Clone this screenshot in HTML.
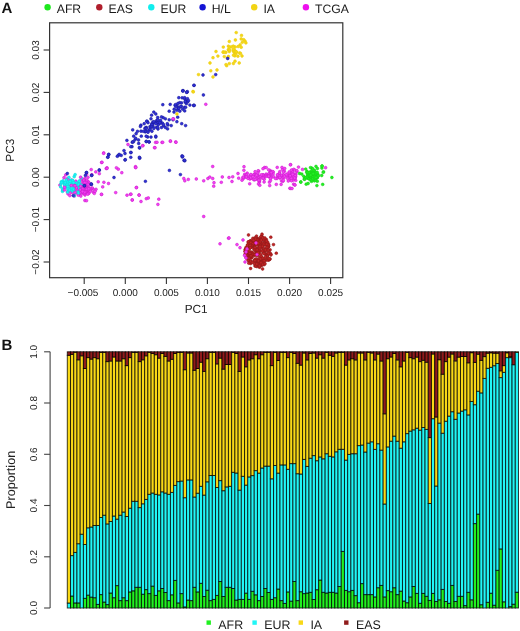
<!DOCTYPE html><html><head><meta charset="utf-8"><style>html,body{margin:0;padding:0;background:#fff;}svg{display:block}</style></head><body>
<svg width="520" height="631" viewBox="0 0 520 631" text-rendering="geometricPrecision" font-family='"Liberation Sans", Arial, Helvetica, sans-serif'>
<rect width="520" height="631" fill="#fff"/>
<text x="1.5" y="13.1" font-size="15" font-weight="bold" fill="#111">A</text>
<circle cx="47.6" cy="7.2" r="3.2" fill="#1ee81e"/>
<text x="56.8" y="12.6" font-size="12.2" fill="#1a1a1a">AFR</text>
<circle cx="99.3" cy="7.2" r="3.2" fill="#b01e2c"/>
<text x="108.5" y="12.6" font-size="12.2" fill="#1a1a1a">EAS</text>
<circle cx="151.3" cy="7.2" r="3.2" fill="#10eeee"/>
<text x="160.5" y="12.6" font-size="12.2" fill="#1a1a1a">EUR</text>
<circle cx="202.6" cy="7.2" r="3.2" fill="#1414d4"/>
<text x="211.8" y="12.6" font-size="12.2" fill="#1a1a1a">H/L</text>
<circle cx="254.2" cy="7.2" r="3.2" fill="#f2d414"/>
<text x="263.4" y="12.6" font-size="12.2" fill="#1a1a1a">IA</text>
<circle cx="305.9" cy="7.2" r="3.2" fill="#ee10ee"/>
<text x="315.1" y="12.6" font-size="12.2" fill="#1a1a1a">TCGA</text>
<g stroke-width="0.55">
<circle cx="77.2" cy="190.1" r="1.4" fill="#f440f4" stroke="#cc1ccc"/>
<circle cx="77.4" cy="185.9" r="1.4" fill="#f440f4" stroke="#cc1ccc"/>
<circle cx="72.5" cy="186.4" r="1.4" fill="#f440f4" stroke="#cc1ccc"/>
<circle cx="86.8" cy="189.6" r="1.4" fill="#f440f4" stroke="#cc1ccc"/>
<circle cx="86.3" cy="188.7" r="1.4" fill="#f440f4" stroke="#cc1ccc"/>
<circle cx="81.8" cy="188.4" r="1.4" fill="#f440f4" stroke="#cc1ccc"/>
<circle cx="67.3" cy="191.8" r="1.4" fill="#f440f4" stroke="#cc1ccc"/>
<circle cx="82.5" cy="190.0" r="1.4" fill="#f440f4" stroke="#cc1ccc"/>
<circle cx="67.2" cy="178.8" r="1.4" fill="#f440f4" stroke="#cc1ccc"/>
<circle cx="72.8" cy="185.2" r="1.4" fill="#f440f4" stroke="#cc1ccc"/>
<circle cx="81.1" cy="187.3" r="1.4" fill="#f440f4" stroke="#cc1ccc"/>
<circle cx="82.6" cy="184.3" r="1.4" fill="#f440f4" stroke="#cc1ccc"/>
<circle cx="81.2" cy="189.5" r="1.4" fill="#f440f4" stroke="#cc1ccc"/>
<circle cx="74.4" cy="196.1" r="1.4" fill="#f440f4" stroke="#cc1ccc"/>
<circle cx="82.9" cy="193.5" r="1.4" fill="#f440f4" stroke="#cc1ccc"/>
<circle cx="74.7" cy="183.8" r="1.4" fill="#f440f4" stroke="#cc1ccc"/>
<circle cx="76.6" cy="187.0" r="1.4" fill="#f440f4" stroke="#cc1ccc"/>
<circle cx="83.4" cy="188.7" r="1.4" fill="#f440f4" stroke="#cc1ccc"/>
<circle cx="75.9" cy="182.7" r="1.4" fill="#f440f4" stroke="#cc1ccc"/>
<circle cx="75.4" cy="193.6" r="1.4" fill="#f440f4" stroke="#cc1ccc"/>
<circle cx="73.3" cy="188.7" r="1.4" fill="#f440f4" stroke="#cc1ccc"/>
<circle cx="82.0" cy="180.1" r="1.4" fill="#f440f4" stroke="#cc1ccc"/>
<circle cx="79.3" cy="194.0" r="1.4" fill="#f440f4" stroke="#cc1ccc"/>
<circle cx="64.9" cy="185.9" r="1.4" fill="#f440f4" stroke="#cc1ccc"/>
<circle cx="78.3" cy="183.4" r="1.4" fill="#f440f4" stroke="#cc1ccc"/>
<circle cx="82.5" cy="187.2" r="1.4" fill="#f440f4" stroke="#cc1ccc"/>
<circle cx="68.7" cy="191.6" r="1.4" fill="#f440f4" stroke="#cc1ccc"/>
<circle cx="83.7" cy="192.2" r="1.4" fill="#f440f4" stroke="#cc1ccc"/>
<circle cx="89.1" cy="189.3" r="1.4" fill="#f440f4" stroke="#cc1ccc"/>
<circle cx="79.8" cy="181.0" r="1.4" fill="#f440f4" stroke="#cc1ccc"/>
<circle cx="83.3" cy="184.4" r="1.4" fill="#f440f4" stroke="#cc1ccc"/>
<circle cx="75.8" cy="181.2" r="1.4" fill="#f440f4" stroke="#cc1ccc"/>
<circle cx="72.2" cy="184.8" r="1.4" fill="#f440f4" stroke="#cc1ccc"/>
<circle cx="88.0" cy="177.3" r="1.4" fill="#f440f4" stroke="#cc1ccc"/>
<circle cx="68.8" cy="188.7" r="1.4" fill="#f440f4" stroke="#cc1ccc"/>
<circle cx="89.1" cy="190.4" r="1.4" fill="#f440f4" stroke="#cc1ccc"/>
<circle cx="65.7" cy="174.9" r="1.4" fill="#f440f4" stroke="#cc1ccc"/>
<circle cx="81.5" cy="183.8" r="1.4" fill="#f440f4" stroke="#cc1ccc"/>
<circle cx="71.2" cy="192.4" r="1.4" fill="#f440f4" stroke="#cc1ccc"/>
<circle cx="86.7" cy="188.3" r="1.4" fill="#f440f4" stroke="#cc1ccc"/>
<circle cx="80.7" cy="189.7" r="1.4" fill="#f440f4" stroke="#cc1ccc"/>
<circle cx="90.2" cy="190.6" r="1.4" fill="#f440f4" stroke="#cc1ccc"/>
<circle cx="82.6" cy="190.2" r="1.4" fill="#f440f4" stroke="#cc1ccc"/>
<circle cx="68.0" cy="193.9" r="1.4" fill="#f440f4" stroke="#cc1ccc"/>
<circle cx="85.7" cy="190.1" r="1.4" fill="#f440f4" stroke="#cc1ccc"/>
<circle cx="65.2" cy="184.3" r="1.4" fill="#f440f4" stroke="#cc1ccc"/>
<circle cx="84.9" cy="178.4" r="1.4" fill="#f440f4" stroke="#cc1ccc"/>
<circle cx="77.7" cy="192.6" r="1.4" fill="#f440f4" stroke="#cc1ccc"/>
<circle cx="69.8" cy="195.6" r="1.4" fill="#f440f4" stroke="#cc1ccc"/>
<circle cx="82.9" cy="186.7" r="1.4" fill="#f440f4" stroke="#cc1ccc"/>
<circle cx="81.3" cy="190.7" r="1.4" fill="#f440f4" stroke="#cc1ccc"/>
<circle cx="79.8" cy="193.2" r="1.4" fill="#f440f4" stroke="#cc1ccc"/>
<circle cx="74.4" cy="185.4" r="1.4" fill="#f440f4" stroke="#cc1ccc"/>
<circle cx="86.3" cy="187.6" r="1.4" fill="#f440f4" stroke="#cc1ccc"/>
<circle cx="72.8" cy="192.2" r="1.4" fill="#f440f4" stroke="#cc1ccc"/>
<circle cx="89.3" cy="185.3" r="1.4" fill="#f440f4" stroke="#cc1ccc"/>
<circle cx="69.3" cy="186.8" r="1.4" fill="#f440f4" stroke="#cc1ccc"/>
<circle cx="78.0" cy="186.0" r="1.4" fill="#f440f4" stroke="#cc1ccc"/>
<circle cx="88.8" cy="182.4" r="1.4" fill="#f440f4" stroke="#cc1ccc"/>
<circle cx="87.8" cy="181.2" r="1.4" fill="#f440f4" stroke="#cc1ccc"/>
<circle cx="73.5" cy="190.7" r="1.4" fill="#f440f4" stroke="#cc1ccc"/>
<circle cx="86.9" cy="191.8" r="1.4" fill="#f440f4" stroke="#cc1ccc"/>
<circle cx="81.4" cy="188.2" r="1.4" fill="#f440f4" stroke="#cc1ccc"/>
<circle cx="80.1" cy="190.4" r="1.4" fill="#f440f4" stroke="#cc1ccc"/>
<circle cx="77.8" cy="188.9" r="1.4" fill="#f440f4" stroke="#cc1ccc"/>
<circle cx="83.0" cy="187.5" r="1.4" fill="#f440f4" stroke="#cc1ccc"/>
<circle cx="84.3" cy="190.3" r="1.4" fill="#f440f4" stroke="#cc1ccc"/>
<circle cx="93.1" cy="189.1" r="1.4" fill="#f440f4" stroke="#cc1ccc"/>
<circle cx="76.0" cy="185.6" r="1.4" fill="#f440f4" stroke="#cc1ccc"/>
<circle cx="78.9" cy="192.1" r="1.4" fill="#f440f4" stroke="#cc1ccc"/>
<circle cx="76.6" cy="189.4" r="1.4" fill="#f440f4" stroke="#cc1ccc"/>
<circle cx="91.9" cy="174.7" r="1.4" fill="#f440f4" stroke="#cc1ccc"/>
<circle cx="71.1" cy="188.7" r="1.4" fill="#f440f4" stroke="#cc1ccc"/>
<circle cx="81.8" cy="188.7" r="1.4" fill="#f440f4" stroke="#cc1ccc"/>
<circle cx="76.0" cy="190.8" r="1.4" fill="#f440f4" stroke="#cc1ccc"/>
<circle cx="81.0" cy="184.9" r="1.4" fill="#f440f4" stroke="#cc1ccc"/>
<circle cx="96.0" cy="189.3" r="1.4" fill="#f440f4" stroke="#cc1ccc"/>
<circle cx="75.1" cy="187.0" r="1.4" fill="#f440f4" stroke="#cc1ccc"/>
<circle cx="77.4" cy="187.2" r="1.4" fill="#f440f4" stroke="#cc1ccc"/>
<circle cx="59.9" cy="185.1" r="1.4" fill="#f440f4" stroke="#cc1ccc"/>
<circle cx="86.1" cy="181.7" r="1.4" fill="#f440f4" stroke="#cc1ccc"/>
<circle cx="78.5" cy="192.3" r="1.4" fill="#f440f4" stroke="#cc1ccc"/>
<circle cx="85.0" cy="195.0" r="1.4" fill="#f440f4" stroke="#cc1ccc"/>
<circle cx="67.1" cy="185.7" r="1.4" fill="#f440f4" stroke="#cc1ccc"/>
<circle cx="76.6" cy="190.6" r="1.4" fill="#f440f4" stroke="#cc1ccc"/>
<circle cx="86.6" cy="174.1" r="1.4" fill="#f440f4" stroke="#cc1ccc"/>
<circle cx="86.6" cy="180.3" r="1.4" fill="#f440f4" stroke="#cc1ccc"/>
<circle cx="83.8" cy="180.0" r="1.4" fill="#f440f4" stroke="#cc1ccc"/>
<circle cx="80.2" cy="193.5" r="1.4" fill="#f440f4" stroke="#cc1ccc"/>
<circle cx="78.0" cy="188.5" r="1.4" fill="#f440f4" stroke="#cc1ccc"/>
<circle cx="84.6" cy="188.2" r="1.4" fill="#f440f4" stroke="#cc1ccc"/>
<circle cx="78.4" cy="195.2" r="1.4" fill="#f440f4" stroke="#cc1ccc"/>
<circle cx="86.3" cy="186.0" r="1.4" fill="#f440f4" stroke="#cc1ccc"/>
<circle cx="98.2" cy="181.8" r="1.4" fill="#f440f4" stroke="#cc1ccc"/>
<circle cx="85.4" cy="186.2" r="1.4" fill="#f440f4" stroke="#cc1ccc"/>
<circle cx="79.9" cy="191.0" r="1.4" fill="#f440f4" stroke="#cc1ccc"/>
<circle cx="80.6" cy="190.7" r="1.4" fill="#f440f4" stroke="#cc1ccc"/>
<circle cx="68.3" cy="180.0" r="1.4" fill="#f440f4" stroke="#cc1ccc"/>
<circle cx="83.3" cy="182.7" r="1.4" fill="#f440f4" stroke="#cc1ccc"/>
<circle cx="71.8" cy="180.1" r="1.4" fill="#f440f4" stroke="#cc1ccc"/>
<circle cx="78.1" cy="188.6" r="1.4" fill="#18f4f4" stroke="#10d8d8"/>
<circle cx="79.1" cy="181.6" r="1.4" fill="#18f4f4" stroke="#10d8d8"/>
<circle cx="72.0" cy="180.7" r="1.4" fill="#18f4f4" stroke="#10d8d8"/>
<circle cx="75.7" cy="192.2" r="1.4" fill="#18f4f4" stroke="#10d8d8"/>
<circle cx="67.7" cy="192.1" r="1.4" fill="#18f4f4" stroke="#10d8d8"/>
<circle cx="76.7" cy="184.8" r="1.4" fill="#18f4f4" stroke="#10d8d8"/>
<circle cx="62.5" cy="191.4" r="1.4" fill="#18f4f4" stroke="#10d8d8"/>
<circle cx="71.5" cy="183.0" r="1.4" fill="#18f4f4" stroke="#10d8d8"/>
<circle cx="73.9" cy="187.2" r="1.4" fill="#18f4f4" stroke="#10d8d8"/>
<circle cx="79.2" cy="181.2" r="1.4" fill="#18f4f4" stroke="#10d8d8"/>
<circle cx="77.5" cy="191.7" r="1.4" fill="#18f4f4" stroke="#10d8d8"/>
<circle cx="79.0" cy="184.7" r="1.4" fill="#18f4f4" stroke="#10d8d8"/>
<circle cx="68.4" cy="189.8" r="1.4" fill="#18f4f4" stroke="#10d8d8"/>
<circle cx="72.6" cy="186.0" r="1.4" fill="#18f4f4" stroke="#10d8d8"/>
<circle cx="78.8" cy="184.4" r="1.4" fill="#18f4f4" stroke="#10d8d8"/>
<circle cx="61.0" cy="183.9" r="1.4" fill="#18f4f4" stroke="#10d8d8"/>
<circle cx="63.1" cy="188.9" r="1.4" fill="#18f4f4" stroke="#10d8d8"/>
<circle cx="73.5" cy="182.9" r="1.4" fill="#18f4f4" stroke="#10d8d8"/>
<circle cx="72.0" cy="189.0" r="1.4" fill="#18f4f4" stroke="#10d8d8"/>
<circle cx="72.4" cy="191.1" r="1.4" fill="#18f4f4" stroke="#10d8d8"/>
<circle cx="71.7" cy="189.9" r="1.4" fill="#18f4f4" stroke="#10d8d8"/>
<circle cx="79.2" cy="192.3" r="1.4" fill="#18f4f4" stroke="#10d8d8"/>
<circle cx="68.8" cy="189.2" r="1.4" fill="#18f4f4" stroke="#10d8d8"/>
<circle cx="63.0" cy="180.9" r="1.4" fill="#18f4f4" stroke="#10d8d8"/>
<circle cx="62.6" cy="190.0" r="1.4" fill="#18f4f4" stroke="#10d8d8"/>
<circle cx="66.1" cy="185.4" r="1.4" fill="#18f4f4" stroke="#10d8d8"/>
<circle cx="71.1" cy="185.4" r="1.4" fill="#18f4f4" stroke="#10d8d8"/>
<circle cx="69.2" cy="186.5" r="1.4" fill="#18f4f4" stroke="#10d8d8"/>
<circle cx="80.6" cy="185.7" r="1.4" fill="#18f4f4" stroke="#10d8d8"/>
<circle cx="74.5" cy="189.7" r="1.4" fill="#18f4f4" stroke="#10d8d8"/>
<circle cx="71.0" cy="180.2" r="1.4" fill="#18f4f4" stroke="#10d8d8"/>
<circle cx="69.3" cy="190.0" r="1.4" fill="#18f4f4" stroke="#10d8d8"/>
<circle cx="64.1" cy="183.0" r="1.4" fill="#18f4f4" stroke="#10d8d8"/>
<circle cx="76.8" cy="188.8" r="1.4" fill="#18f4f4" stroke="#10d8d8"/>
<circle cx="72.0" cy="188.9" r="1.4" fill="#18f4f4" stroke="#10d8d8"/>
<circle cx="72.8" cy="180.5" r="1.4" fill="#18f4f4" stroke="#10d8d8"/>
<circle cx="64.5" cy="182.8" r="1.4" fill="#18f4f4" stroke="#10d8d8"/>
<circle cx="76.4" cy="183.1" r="1.4" fill="#18f4f4" stroke="#10d8d8"/>
<circle cx="67.7" cy="182.3" r="1.4" fill="#18f4f4" stroke="#10d8d8"/>
<circle cx="64.6" cy="185.0" r="1.4" fill="#18f4f4" stroke="#10d8d8"/>
<circle cx="66.3" cy="187.0" r="1.4" fill="#18f4f4" stroke="#10d8d8"/>
<circle cx="60.7" cy="186.9" r="1.4" fill="#18f4f4" stroke="#10d8d8"/>
<circle cx="68.9" cy="177.3" r="1.4" fill="#18f4f4" stroke="#10d8d8"/>
<circle cx="75.5" cy="184.3" r="1.4" fill="#18f4f4" stroke="#10d8d8"/>
<circle cx="61.3" cy="181.8" r="1.4" fill="#18f4f4" stroke="#10d8d8"/>
<circle cx="73.4" cy="183.6" r="1.4" fill="#18f4f4" stroke="#10d8d8"/>
<circle cx="75.7" cy="188.6" r="1.4" fill="#18f4f4" stroke="#10d8d8"/>
<circle cx="75.2" cy="186.9" r="1.4" fill="#18f4f4" stroke="#10d8d8"/>
<circle cx="78.4" cy="188.3" r="1.4" fill="#18f4f4" stroke="#10d8d8"/>
<circle cx="74.2" cy="176.7" r="1.4" fill="#18f4f4" stroke="#10d8d8"/>
<circle cx="76.3" cy="191.0" r="1.4" fill="#18f4f4" stroke="#10d8d8"/>
<circle cx="70.6" cy="183.5" r="1.4" fill="#18f4f4" stroke="#10d8d8"/>
<circle cx="81.3" cy="178.1" r="1.4" fill="#18f4f4" stroke="#10d8d8"/>
<circle cx="74.3" cy="195.7" r="1.4" fill="#18f4f4" stroke="#10d8d8"/>
<circle cx="67.5" cy="188.4" r="1.4" fill="#18f4f4" stroke="#10d8d8"/>
<circle cx="81.1" cy="185.0" r="1.4" fill="#18f4f4" stroke="#10d8d8"/>
<circle cx="74.7" cy="189.3" r="1.4" fill="#18f4f4" stroke="#10d8d8"/>
<circle cx="67.7" cy="185.1" r="1.4" fill="#18f4f4" stroke="#10d8d8"/>
<circle cx="73.4" cy="189.0" r="1.4" fill="#18f4f4" stroke="#10d8d8"/>
<circle cx="71.8" cy="184.7" r="1.4" fill="#18f4f4" stroke="#10d8d8"/>
<circle cx="67.1" cy="184.0" r="1.4" fill="#18f4f4" stroke="#10d8d8"/>
<circle cx="76.3" cy="185.9" r="1.4" fill="#18f4f4" stroke="#10d8d8"/>
<circle cx="67.9" cy="182.0" r="1.4" fill="#18f4f4" stroke="#10d8d8"/>
<circle cx="84.8" cy="190.3" r="1.4" fill="#18f4f4" stroke="#10d8d8"/>
<circle cx="75.1" cy="174.6" r="1.4" fill="#18f4f4" stroke="#10d8d8"/>
<circle cx="75.0" cy="187.5" r="1.4" fill="#18f4f4" stroke="#10d8d8"/>
<circle cx="80.1" cy="187.3" r="1.4" fill="#18f4f4" stroke="#10d8d8"/>
<circle cx="71.7" cy="187.7" r="1.4" fill="#18f4f4" stroke="#10d8d8"/>
<circle cx="62.7" cy="189.8" r="1.4" fill="#18f4f4" stroke="#10d8d8"/>
<circle cx="73.6" cy="182.6" r="1.4" fill="#18f4f4" stroke="#10d8d8"/>
<circle cx="78.4" cy="193.1" r="1.4" fill="#18f4f4" stroke="#10d8d8"/>
<circle cx="65.3" cy="182.7" r="1.4" fill="#18f4f4" stroke="#10d8d8"/>
<circle cx="73.4" cy="186.3" r="1.4" fill="#18f4f4" stroke="#10d8d8"/>
<circle cx="70.1" cy="181.4" r="1.4" fill="#18f4f4" stroke="#10d8d8"/>
<circle cx="82.2" cy="189.9" r="1.4" fill="#18f4f4" stroke="#10d8d8"/>
<circle cx="66.3" cy="179.9" r="1.4" fill="#18f4f4" stroke="#10d8d8"/>
<circle cx="80.2" cy="189.7" r="1.4" fill="#18f4f4" stroke="#10d8d8"/>
<circle cx="80.7" cy="188.9" r="1.4" fill="#18f4f4" stroke="#10d8d8"/>
<circle cx="67.8" cy="186.6" r="1.4" fill="#18f4f4" stroke="#10d8d8"/>
<circle cx="61.6" cy="182.4" r="1.4" fill="#18f4f4" stroke="#10d8d8"/>
<circle cx="85.7" cy="191.4" r="1.4" fill="#f440f4" stroke="#cc1ccc"/>
<circle cx="82.4" cy="188.4" r="1.4" fill="#f440f4" stroke="#cc1ccc"/>
<circle cx="88.3" cy="190.7" r="1.4" fill="#f440f4" stroke="#cc1ccc"/>
<circle cx="89.2" cy="189.9" r="1.4" fill="#f440f4" stroke="#cc1ccc"/>
<circle cx="84.4" cy="192.6" r="1.4" fill="#f440f4" stroke="#cc1ccc"/>
<circle cx="86.2" cy="185.3" r="1.4" fill="#f440f4" stroke="#cc1ccc"/>
<circle cx="82.9" cy="189.0" r="1.4" fill="#f440f4" stroke="#cc1ccc"/>
<circle cx="85.5" cy="189.7" r="1.4" fill="#f440f4" stroke="#cc1ccc"/>
<circle cx="86.0" cy="189.8" r="1.4" fill="#f440f4" stroke="#cc1ccc"/>
<circle cx="85.3" cy="183.3" r="1.4" fill="#f440f4" stroke="#cc1ccc"/>
<circle cx="88.1" cy="193.7" r="1.4" fill="#f440f4" stroke="#cc1ccc"/>
<circle cx="88.2" cy="188.1" r="1.4" fill="#f440f4" stroke="#cc1ccc"/>
<circle cx="88.2" cy="184.7" r="1.4" fill="#f440f4" stroke="#cc1ccc"/>
<circle cx="76.5" cy="189.3" r="1.4" fill="#f440f4" stroke="#cc1ccc"/>
<circle cx="81.3" cy="192.3" r="1.4" fill="#f440f4" stroke="#cc1ccc"/>
<circle cx="80.6" cy="177.2" r="1.4" fill="#f440f4" stroke="#cc1ccc"/>
<circle cx="80.8" cy="196.1" r="1.4" fill="#f440f4" stroke="#cc1ccc"/>
<circle cx="84.1" cy="182.8" r="1.4" fill="#f440f4" stroke="#cc1ccc"/>
<circle cx="82.2" cy="191.3" r="1.4" fill="#f440f4" stroke="#cc1ccc"/>
<circle cx="88.5" cy="189.8" r="1.4" fill="#f440f4" stroke="#cc1ccc"/>
<circle cx="93.4" cy="192.2" r="1.4" fill="#f440f4" stroke="#cc1ccc"/>
<circle cx="85.9" cy="191.7" r="1.4" fill="#f440f4" stroke="#cc1ccc"/>
<circle cx="94.3" cy="193.4" r="1.4" fill="#f440f4" stroke="#cc1ccc"/>
<circle cx="91.1" cy="184.1" r="1.4" fill="#f440f4" stroke="#cc1ccc"/>
<circle cx="85.3" cy="192.3" r="1.4" fill="#f440f4" stroke="#cc1ccc"/>
<circle cx="84.5" cy="193.8" r="1.4" fill="#f440f4" stroke="#cc1ccc"/>
<circle cx="89.0" cy="193.1" r="1.4" fill="#f440f4" stroke="#cc1ccc"/>
<circle cx="84.9" cy="200.5" r="1.4" fill="#f440f4" stroke="#cc1ccc"/>
<circle cx="92.2" cy="188.0" r="1.4" fill="#f440f4" stroke="#cc1ccc"/>
<circle cx="86.5" cy="200.7" r="1.4" fill="#f440f4" stroke="#cc1ccc"/>
<circle cx="84.3" cy="192.9" r="1.4" fill="#f440f4" stroke="#cc1ccc"/>
<circle cx="90.9" cy="189.0" r="1.4" fill="#f440f4" stroke="#cc1ccc"/>
<circle cx="80.2" cy="189.8" r="1.4" fill="#f440f4" stroke="#cc1ccc"/>
<circle cx="87.8" cy="194.1" r="1.4" fill="#f440f4" stroke="#cc1ccc"/>
<circle cx="89.9" cy="189.1" r="1.4" fill="#f440f4" stroke="#cc1ccc"/>
<circle cx="90.3" cy="191.4" r="1.4" fill="#f440f4" stroke="#cc1ccc"/>
<circle cx="87.0" cy="189.2" r="1.4" fill="#f440f4" stroke="#cc1ccc"/>
<circle cx="84.8" cy="192.1" r="1.4" fill="#f440f4" stroke="#cc1ccc"/>
<circle cx="80.7" cy="186.2" r="1.4" fill="#f440f4" stroke="#cc1ccc"/>
<circle cx="86.0" cy="182.4" r="1.4" fill="#f440f4" stroke="#cc1ccc"/>
<circle cx="83.8" cy="180.0" r="1.4" fill="#f440f4" stroke="#cc1ccc"/>
<circle cx="82.6" cy="191.6" r="1.4" fill="#f440f4" stroke="#cc1ccc"/>
<circle cx="88.8" cy="188.8" r="1.4" fill="#f440f4" stroke="#cc1ccc"/>
<circle cx="84.8" cy="182.6" r="1.4" fill="#f440f4" stroke="#cc1ccc"/>
<circle cx="95.1" cy="191.3" r="1.4" fill="#f440f4" stroke="#cc1ccc"/>
<circle cx="76.4" cy="187.8" r="1.4" fill="#f440f4" stroke="#cc1ccc"/>
<circle cx="71.3" cy="185.5" r="1.4" fill="#f440f4" stroke="#cc1ccc"/>
<circle cx="75.1" cy="192.3" r="1.4" fill="#f440f4" stroke="#cc1ccc"/>
<circle cx="64.4" cy="189.9" r="1.4" fill="#f440f4" stroke="#cc1ccc"/>
<circle cx="74.5" cy="185.6" r="1.4" fill="#f440f4" stroke="#cc1ccc"/>
<circle cx="64.7" cy="187.3" r="1.4" fill="#f440f4" stroke="#cc1ccc"/>
<circle cx="64.0" cy="177.7" r="1.4" fill="#f440f4" stroke="#cc1ccc"/>
<circle cx="75.0" cy="185.8" r="1.4" fill="#f440f4" stroke="#cc1ccc"/>
<circle cx="91.2" cy="169.6" r="1.4" fill="#f440f4" stroke="#cc1ccc"/>
<circle cx="95.8" cy="171.9" r="1.4" fill="#f440f4" stroke="#cc1ccc"/>
<circle cx="99.3" cy="173.7" r="1.4" fill="#f440f4" stroke="#cc1ccc"/>
<circle cx="106.2" cy="168.5" r="1.4" fill="#f440f4" stroke="#cc1ccc"/>
<circle cx="108.5" cy="183.5" r="1.4" fill="#f440f4" stroke="#cc1ccc"/>
<circle cx="103.9" cy="182.3" r="1.4" fill="#f440f4" stroke="#cc1ccc"/>
<circle cx="101.6" cy="194.4" r="1.4" fill="#f440f4" stroke="#cc1ccc"/>
<circle cx="102.7" cy="186.9" r="1.4" fill="#f440f4" stroke="#cc1ccc"/>
<circle cx="279.9" cy="174.4" r="1.4" fill="#f440f4" stroke="#cc1ccc"/>
<circle cx="244.7" cy="174.3" r="1.4" fill="#f440f4" stroke="#cc1ccc"/>
<circle cx="250.2" cy="175.4" r="1.4" fill="#f440f4" stroke="#cc1ccc"/>
<circle cx="288.1" cy="176.3" r="1.4" fill="#f440f4" stroke="#cc1ccc"/>
<circle cx="273.2" cy="172.1" r="1.4" fill="#f440f4" stroke="#cc1ccc"/>
<circle cx="279.8" cy="171.7" r="1.4" fill="#f440f4" stroke="#cc1ccc"/>
<circle cx="269.4" cy="182.2" r="1.4" fill="#f440f4" stroke="#cc1ccc"/>
<circle cx="283.4" cy="175.3" r="1.4" fill="#f440f4" stroke="#cc1ccc"/>
<circle cx="270.2" cy="170.6" r="1.4" fill="#f440f4" stroke="#cc1ccc"/>
<circle cx="246.6" cy="175.5" r="1.4" fill="#f440f4" stroke="#cc1ccc"/>
<circle cx="282.8" cy="175.2" r="1.4" fill="#f440f4" stroke="#cc1ccc"/>
<circle cx="257.3" cy="177.6" r="1.4" fill="#f440f4" stroke="#cc1ccc"/>
<circle cx="282.4" cy="176.9" r="1.4" fill="#f440f4" stroke="#cc1ccc"/>
<circle cx="295.7" cy="180.4" r="1.4" fill="#f440f4" stroke="#cc1ccc"/>
<circle cx="269.7" cy="172.7" r="1.4" fill="#f440f4" stroke="#cc1ccc"/>
<circle cx="279.9" cy="178.1" r="1.4" fill="#f440f4" stroke="#cc1ccc"/>
<circle cx="284.4" cy="171.3" r="1.4" fill="#f440f4" stroke="#cc1ccc"/>
<circle cx="247.2" cy="173.2" r="1.4" fill="#f440f4" stroke="#cc1ccc"/>
<circle cx="251.0" cy="176.3" r="1.4" fill="#f440f4" stroke="#cc1ccc"/>
<circle cx="259.4" cy="182.1" r="1.4" fill="#f440f4" stroke="#cc1ccc"/>
<circle cx="273.7" cy="176.8" r="1.4" fill="#f440f4" stroke="#cc1ccc"/>
<circle cx="257.5" cy="176.3" r="1.4" fill="#f440f4" stroke="#cc1ccc"/>
<circle cx="279.3" cy="173.4" r="1.4" fill="#f440f4" stroke="#cc1ccc"/>
<circle cx="258.7" cy="171.1" r="1.4" fill="#f440f4" stroke="#cc1ccc"/>
<circle cx="270.9" cy="171.7" r="1.4" fill="#f440f4" stroke="#cc1ccc"/>
<circle cx="249.4" cy="177.4" r="1.4" fill="#f440f4" stroke="#cc1ccc"/>
<circle cx="291.3" cy="178.0" r="1.4" fill="#f440f4" stroke="#cc1ccc"/>
<circle cx="293.6" cy="184.2" r="1.4" fill="#f440f4" stroke="#cc1ccc"/>
<circle cx="243.9" cy="170.3" r="1.4" fill="#f440f4" stroke="#cc1ccc"/>
<circle cx="295.3" cy="176.4" r="1.4" fill="#f440f4" stroke="#cc1ccc"/>
<circle cx="267.3" cy="175.5" r="1.4" fill="#f440f4" stroke="#cc1ccc"/>
<circle cx="294.1" cy="177.2" r="1.4" fill="#f440f4" stroke="#cc1ccc"/>
<circle cx="254.4" cy="174.6" r="1.4" fill="#f440f4" stroke="#cc1ccc"/>
<circle cx="271.3" cy="174.7" r="1.4" fill="#f440f4" stroke="#cc1ccc"/>
<circle cx="294.4" cy="179.2" r="1.4" fill="#f440f4" stroke="#cc1ccc"/>
<circle cx="270.5" cy="180.6" r="1.4" fill="#f440f4" stroke="#cc1ccc"/>
<circle cx="290.9" cy="174.1" r="1.4" fill="#f440f4" stroke="#cc1ccc"/>
<circle cx="291.5" cy="172.4" r="1.4" fill="#f440f4" stroke="#cc1ccc"/>
<circle cx="269.3" cy="176.1" r="1.4" fill="#f440f4" stroke="#cc1ccc"/>
<circle cx="269.6" cy="175.8" r="1.4" fill="#f440f4" stroke="#cc1ccc"/>
<circle cx="267.3" cy="175.2" r="1.4" fill="#f440f4" stroke="#cc1ccc"/>
<circle cx="261.6" cy="177.9" r="1.4" fill="#f440f4" stroke="#cc1ccc"/>
<circle cx="260.1" cy="176.2" r="1.4" fill="#f440f4" stroke="#cc1ccc"/>
<circle cx="283.5" cy="175.0" r="1.4" fill="#f440f4" stroke="#cc1ccc"/>
<circle cx="288.3" cy="181.0" r="1.4" fill="#f440f4" stroke="#cc1ccc"/>
<circle cx="281.5" cy="180.9" r="1.4" fill="#f440f4" stroke="#cc1ccc"/>
<circle cx="291.7" cy="174.0" r="1.4" fill="#f440f4" stroke="#cc1ccc"/>
<circle cx="264.2" cy="179.3" r="1.4" fill="#f440f4" stroke="#cc1ccc"/>
<circle cx="296.9" cy="171.8" r="1.4" fill="#f440f4" stroke="#cc1ccc"/>
<circle cx="266.1" cy="174.1" r="1.4" fill="#f440f4" stroke="#cc1ccc"/>
<circle cx="257.9" cy="177.8" r="1.4" fill="#f440f4" stroke="#cc1ccc"/>
<circle cx="288.1" cy="175.5" r="1.4" fill="#f440f4" stroke="#cc1ccc"/>
<circle cx="258.4" cy="178.7" r="1.4" fill="#f440f4" stroke="#cc1ccc"/>
<circle cx="257.3" cy="175.2" r="1.4" fill="#f440f4" stroke="#cc1ccc"/>
<circle cx="270.6" cy="177.0" r="1.4" fill="#f440f4" stroke="#cc1ccc"/>
<circle cx="294.6" cy="178.0" r="1.4" fill="#f440f4" stroke="#cc1ccc"/>
<circle cx="290.8" cy="176.8" r="1.4" fill="#f440f4" stroke="#cc1ccc"/>
<circle cx="292.3" cy="170.1" r="1.4" fill="#f440f4" stroke="#cc1ccc"/>
<circle cx="293.8" cy="169.3" r="1.4" fill="#f440f4" stroke="#cc1ccc"/>
<circle cx="245.7" cy="174.9" r="1.4" fill="#f440f4" stroke="#cc1ccc"/>
<circle cx="282.5" cy="169.5" r="1.4" fill="#f440f4" stroke="#cc1ccc"/>
<circle cx="277.8" cy="177.2" r="1.4" fill="#f440f4" stroke="#cc1ccc"/>
<circle cx="258.5" cy="184.0" r="1.4" fill="#f440f4" stroke="#cc1ccc"/>
<circle cx="249.9" cy="179.0" r="1.4" fill="#f440f4" stroke="#cc1ccc"/>
<circle cx="268.5" cy="174.1" r="1.4" fill="#f440f4" stroke="#cc1ccc"/>
<circle cx="282.9" cy="177.7" r="1.4" fill="#f440f4" stroke="#cc1ccc"/>
<circle cx="295.7" cy="174.4" r="1.4" fill="#f440f4" stroke="#cc1ccc"/>
<circle cx="259.2" cy="181.4" r="1.4" fill="#f440f4" stroke="#cc1ccc"/>
<circle cx="273.1" cy="173.9" r="1.4" fill="#f440f4" stroke="#cc1ccc"/>
<circle cx="251.7" cy="177.8" r="1.4" fill="#f440f4" stroke="#cc1ccc"/>
<circle cx="254.2" cy="179.9" r="1.4" fill="#f440f4" stroke="#cc1ccc"/>
<circle cx="254.9" cy="174.0" r="1.4" fill="#f440f4" stroke="#cc1ccc"/>
<circle cx="291.9" cy="178.8" r="1.4" fill="#f440f4" stroke="#cc1ccc"/>
<circle cx="250.5" cy="176.4" r="1.4" fill="#f440f4" stroke="#cc1ccc"/>
<circle cx="253.4" cy="179.2" r="1.4" fill="#f440f4" stroke="#cc1ccc"/>
<circle cx="247.9" cy="178.4" r="1.4" fill="#f440f4" stroke="#cc1ccc"/>
<circle cx="255.9" cy="176.0" r="1.4" fill="#f440f4" stroke="#cc1ccc"/>
<circle cx="290.9" cy="179.6" r="1.4" fill="#f440f4" stroke="#cc1ccc"/>
<circle cx="283.5" cy="172.0" r="1.4" fill="#f440f4" stroke="#cc1ccc"/>
<circle cx="271.3" cy="177.6" r="1.4" fill="#f440f4" stroke="#cc1ccc"/>
<circle cx="263.4" cy="175.3" r="1.4" fill="#f440f4" stroke="#cc1ccc"/>
<circle cx="258.0" cy="177.3" r="1.4" fill="#f440f4" stroke="#cc1ccc"/>
<circle cx="295.3" cy="177.7" r="1.4" fill="#f440f4" stroke="#cc1ccc"/>
<circle cx="277.0" cy="178.5" r="1.4" fill="#f440f4" stroke="#cc1ccc"/>
<circle cx="289.6" cy="175.5" r="1.4" fill="#f440f4" stroke="#cc1ccc"/>
<circle cx="256.4" cy="179.1" r="1.4" fill="#f440f4" stroke="#cc1ccc"/>
<circle cx="264.6" cy="167.5" r="1.4" fill="#f440f4" stroke="#cc1ccc"/>
<circle cx="288.8" cy="177.9" r="1.4" fill="#f440f4" stroke="#cc1ccc"/>
<circle cx="290.1" cy="175.8" r="1.4" fill="#f440f4" stroke="#cc1ccc"/>
<circle cx="281.3" cy="175.4" r="1.4" fill="#f440f4" stroke="#cc1ccc"/>
<circle cx="291.4" cy="170.1" r="1.4" fill="#f440f4" stroke="#cc1ccc"/>
<circle cx="243.0" cy="177.6" r="1.4" fill="#f440f4" stroke="#cc1ccc"/>
<circle cx="264.1" cy="182.0" r="1.4" fill="#f440f4" stroke="#cc1ccc"/>
<circle cx="289.2" cy="172.0" r="1.4" fill="#f440f4" stroke="#cc1ccc"/>
<circle cx="295.5" cy="174.7" r="1.4" fill="#f440f4" stroke="#cc1ccc"/>
<circle cx="251.3" cy="178.2" r="1.4" fill="#f440f4" stroke="#cc1ccc"/>
<circle cx="271.2" cy="172.1" r="1.4" fill="#f440f4" stroke="#cc1ccc"/>
<circle cx="282.0" cy="167.4" r="1.4" fill="#f440f4" stroke="#cc1ccc"/>
<circle cx="278.0" cy="175.8" r="1.4" fill="#f440f4" stroke="#cc1ccc"/>
<circle cx="272.8" cy="171.6" r="1.4" fill="#f440f4" stroke="#cc1ccc"/>
<circle cx="245.1" cy="177.2" r="1.4" fill="#f440f4" stroke="#cc1ccc"/>
<circle cx="292.7" cy="172.2" r="1.4" fill="#f440f4" stroke="#cc1ccc"/>
<circle cx="277.9" cy="174.8" r="1.4" fill="#f440f4" stroke="#cc1ccc"/>
<circle cx="256.6" cy="178.0" r="1.4" fill="#f440f4" stroke="#cc1ccc"/>
<circle cx="277.4" cy="174.9" r="1.4" fill="#f440f4" stroke="#cc1ccc"/>
<circle cx="246.8" cy="175.0" r="1.4" fill="#f440f4" stroke="#cc1ccc"/>
<circle cx="271.3" cy="172.6" r="1.4" fill="#f440f4" stroke="#cc1ccc"/>
<circle cx="255.1" cy="174.5" r="1.4" fill="#f440f4" stroke="#cc1ccc"/>
<circle cx="275.5" cy="178.5" r="1.4" fill="#f440f4" stroke="#cc1ccc"/>
<circle cx="267.9" cy="176.0" r="1.4" fill="#f440f4" stroke="#cc1ccc"/>
<circle cx="294.8" cy="170.1" r="1.4" fill="#f440f4" stroke="#cc1ccc"/>
<circle cx="268.7" cy="169.9" r="1.4" fill="#f440f4" stroke="#cc1ccc"/>
<circle cx="255.7" cy="176.5" r="1.4" fill="#f440f4" stroke="#cc1ccc"/>
<circle cx="281.1" cy="184.4" r="1.4" fill="#f440f4" stroke="#cc1ccc"/>
<circle cx="259.6" cy="180.3" r="1.4" fill="#f440f4" stroke="#cc1ccc"/>
<circle cx="279.4" cy="175.9" r="1.4" fill="#f440f4" stroke="#cc1ccc"/>
<circle cx="265.7" cy="175.6" r="1.4" fill="#f440f4" stroke="#cc1ccc"/>
<circle cx="293.0" cy="180.1" r="1.4" fill="#f440f4" stroke="#cc1ccc"/>
<circle cx="255.2" cy="179.5" r="1.4" fill="#f440f4" stroke="#cc1ccc"/>
<circle cx="265.7" cy="176.6" r="1.4" fill="#f440f4" stroke="#cc1ccc"/>
<circle cx="279.9" cy="177.4" r="1.4" fill="#f440f4" stroke="#cc1ccc"/>
<circle cx="282.9" cy="181.3" r="1.4" fill="#f440f4" stroke="#cc1ccc"/>
<circle cx="270.3" cy="178.4" r="1.4" fill="#f440f4" stroke="#cc1ccc"/>
<circle cx="259.8" cy="185.3" r="1.4" fill="#f440f4" stroke="#cc1ccc"/>
<circle cx="287.3" cy="175.3" r="1.4" fill="#f440f4" stroke="#cc1ccc"/>
<circle cx="284.1" cy="177.7" r="1.4" fill="#f440f4" stroke="#cc1ccc"/>
<circle cx="258.9" cy="180.2" r="1.4" fill="#f440f4" stroke="#cc1ccc"/>
<circle cx="253.1" cy="175.1" r="1.4" fill="#f440f4" stroke="#cc1ccc"/>
<circle cx="255.1" cy="171.7" r="1.4" fill="#f440f4" stroke="#cc1ccc"/>
<circle cx="294.2" cy="177.4" r="1.4" fill="#f440f4" stroke="#cc1ccc"/>
<circle cx="250.9" cy="174.5" r="1.4" fill="#f440f4" stroke="#cc1ccc"/>
<circle cx="295.6" cy="176.2" r="1.4" fill="#f440f4" stroke="#cc1ccc"/>
<circle cx="250.7" cy="177.7" r="1.4" fill="#f440f4" stroke="#cc1ccc"/>
<circle cx="264.2" cy="176.4" r="1.4" fill="#f440f4" stroke="#cc1ccc"/>
<circle cx="291.5" cy="179.2" r="1.4" fill="#f440f4" stroke="#cc1ccc"/>
<circle cx="296.9" cy="170.7" r="1.4" fill="#f440f4" stroke="#cc1ccc"/>
<circle cx="293.3" cy="173.7" r="1.4" fill="#f440f4" stroke="#cc1ccc"/>
<circle cx="293.5" cy="176.8" r="1.4" fill="#f440f4" stroke="#cc1ccc"/>
<circle cx="283.3" cy="180.4" r="1.4" fill="#f440f4" stroke="#cc1ccc"/>
<circle cx="263.4" cy="177.0" r="1.4" fill="#f440f4" stroke="#cc1ccc"/>
<circle cx="263.2" cy="174.9" r="1.4" fill="#f440f4" stroke="#cc1ccc"/>
<circle cx="243.2" cy="178.7" r="1.4" fill="#f440f4" stroke="#cc1ccc"/>
<circle cx="258.1" cy="170.8" r="1.4" fill="#f440f4" stroke="#cc1ccc"/>
<circle cx="249.7" cy="183.8" r="1.4" fill="#f440f4" stroke="#cc1ccc"/>
<circle cx="295.1" cy="175.6" r="1.4" fill="#f440f4" stroke="#cc1ccc"/>
<circle cx="287.4" cy="178.3" r="1.4" fill="#f440f4" stroke="#cc1ccc"/>
<circle cx="287.4" cy="174.0" r="1.4" fill="#f440f4" stroke="#cc1ccc"/>
<circle cx="268.6" cy="176.2" r="1.4" fill="#f440f4" stroke="#cc1ccc"/>
<circle cx="263.1" cy="178.1" r="1.4" fill="#f440f4" stroke="#cc1ccc"/>
<circle cx="262.7" cy="174.9" r="1.4" fill="#f440f4" stroke="#cc1ccc"/>
<circle cx="291.4" cy="178.5" r="1.4" fill="#f440f4" stroke="#cc1ccc"/>
<circle cx="286.8" cy="175.7" r="1.4" fill="#f440f4" stroke="#cc1ccc"/>
<circle cx="284.4" cy="176.1" r="1.4" fill="#f440f4" stroke="#cc1ccc"/>
<circle cx="246.4" cy="176.9" r="1.4" fill="#f440f4" stroke="#cc1ccc"/>
<circle cx="292.7" cy="174.5" r="1.4" fill="#f440f4" stroke="#cc1ccc"/>
<circle cx="291.5" cy="180.8" r="1.4" fill="#f440f4" stroke="#cc1ccc"/>
<circle cx="261.3" cy="174.8" r="1.4" fill="#f440f4" stroke="#cc1ccc"/>
<circle cx="276.3" cy="184.4" r="1.4" fill="#f440f4" stroke="#cc1ccc"/>
<circle cx="257.2" cy="175.6" r="1.4" fill="#f440f4" stroke="#cc1ccc"/>
<circle cx="257.9" cy="173.1" r="1.4" fill="#f440f4" stroke="#cc1ccc"/>
<circle cx="243.2" cy="177.1" r="1.4" fill="#f440f4" stroke="#cc1ccc"/>
<circle cx="277.2" cy="167.4" r="1.4" fill="#f440f4" stroke="#cc1ccc"/>
<circle cx="293.9" cy="177.4" r="1.4" fill="#f440f4" stroke="#cc1ccc"/>
<circle cx="268.7" cy="176.2" r="1.4" fill="#f440f4" stroke="#cc1ccc"/>
<circle cx="294.7" cy="178.1" r="1.4" fill="#f440f4" stroke="#cc1ccc"/>
<circle cx="256.6" cy="175.2" r="1.4" fill="#f440f4" stroke="#cc1ccc"/>
<circle cx="266.2" cy="167.6" r="1.4" fill="#f440f4" stroke="#cc1ccc"/>
<circle cx="252.9" cy="176.7" r="1.4" fill="#f440f4" stroke="#cc1ccc"/>
<circle cx="286.3" cy="174.6" r="1.4" fill="#f440f4" stroke="#cc1ccc"/>
<circle cx="284.7" cy="168.5" r="1.4" fill="#f440f4" stroke="#cc1ccc"/>
<circle cx="244.0" cy="166.7" r="1.4" fill="#f440f4" stroke="#cc1ccc"/>
<circle cx="263.0" cy="168.7" r="1.4" fill="#f440f4" stroke="#cc1ccc"/>
<circle cx="290.6" cy="164.7" r="1.4" fill="#f440f4" stroke="#cc1ccc"/>
<circle cx="289.9" cy="188.3" r="1.4" fill="#f440f4" stroke="#cc1ccc"/>
<circle cx="294.6" cy="184.9" r="1.4" fill="#f440f4" stroke="#cc1ccc"/>
<circle cx="238.0" cy="173.5" r="1.4" fill="#f440f4" stroke="#cc1ccc"/>
<circle cx="238.7" cy="178.2" r="1.4" fill="#f440f4" stroke="#cc1ccc"/>
<circle cx="232.7" cy="176.8" r="1.4" fill="#f440f4" stroke="#cc1ccc"/>
<circle cx="232.0" cy="181.5" r="1.4" fill="#f440f4" stroke="#cc1ccc"/>
<circle cx="242.0" cy="180.2" r="1.4" fill="#f440f4" stroke="#cc1ccc"/>
<circle cx="269.7" cy="185.6" r="1.4" fill="#f440f4" stroke="#cc1ccc"/>
<circle cx="298.5" cy="167.1" r="1.4" fill="#f440f4" stroke="#cc1ccc"/>
<circle cx="302.5" cy="169.4" r="1.4" fill="#f440f4" stroke="#cc1ccc"/>
<circle cx="290.4" cy="164.8" r="1.4" fill="#f440f4" stroke="#cc1ccc"/>
<circle cx="290.4" cy="188.4" r="1.4" fill="#f440f4" stroke="#cc1ccc"/>
<circle cx="295.0" cy="185.0" r="1.4" fill="#f440f4" stroke="#cc1ccc"/>
<circle cx="325.6" cy="167.7" r="1.4" fill="#f440f4" stroke="#cc1ccc"/>
<circle cx="308.9" cy="173.2" r="1.4" fill="#22f022" stroke="#18d018"/>
<circle cx="310.2" cy="178.3" r="1.4" fill="#22f022" stroke="#18d018"/>
<circle cx="312.4" cy="173.8" r="1.4" fill="#22f022" stroke="#18d018"/>
<circle cx="314.4" cy="180.9" r="1.4" fill="#22f022" stroke="#18d018"/>
<circle cx="312.0" cy="176.5" r="1.4" fill="#22f022" stroke="#18d018"/>
<circle cx="317.6" cy="176.2" r="1.4" fill="#22f022" stroke="#18d018"/>
<circle cx="306.2" cy="184.2" r="1.4" fill="#22f022" stroke="#18d018"/>
<circle cx="321.9" cy="168.1" r="1.4" fill="#22f022" stroke="#18d018"/>
<circle cx="311.8" cy="176.7" r="1.4" fill="#22f022" stroke="#18d018"/>
<circle cx="316.3" cy="177.6" r="1.4" fill="#22f022" stroke="#18d018"/>
<circle cx="310.8" cy="171.4" r="1.4" fill="#22f022" stroke="#18d018"/>
<circle cx="312.5" cy="178.9" r="1.4" fill="#22f022" stroke="#18d018"/>
<circle cx="307.1" cy="171.5" r="1.4" fill="#22f022" stroke="#18d018"/>
<circle cx="311.9" cy="168.2" r="1.4" fill="#22f022" stroke="#18d018"/>
<circle cx="310.8" cy="173.6" r="1.4" fill="#22f022" stroke="#18d018"/>
<circle cx="314.0" cy="172.7" r="1.4" fill="#22f022" stroke="#18d018"/>
<circle cx="308.0" cy="173.8" r="1.4" fill="#22f022" stroke="#18d018"/>
<circle cx="311.8" cy="172.8" r="1.4" fill="#22f022" stroke="#18d018"/>
<circle cx="312.1" cy="177.9" r="1.4" fill="#22f022" stroke="#18d018"/>
<circle cx="317.3" cy="181.3" r="1.4" fill="#22f022" stroke="#18d018"/>
<circle cx="308.5" cy="173.7" r="1.4" fill="#22f022" stroke="#18d018"/>
<circle cx="300.8" cy="182.0" r="1.4" fill="#22f022" stroke="#18d018"/>
<circle cx="308.7" cy="175.1" r="1.4" fill="#22f022" stroke="#18d018"/>
<circle cx="314.4" cy="170.3" r="1.4" fill="#22f022" stroke="#18d018"/>
<circle cx="314.1" cy="175.1" r="1.4" fill="#22f022" stroke="#18d018"/>
<circle cx="303.8" cy="176.3" r="1.4" fill="#22f022" stroke="#18d018"/>
<circle cx="317.4" cy="168.5" r="1.4" fill="#22f022" stroke="#18d018"/>
<circle cx="315.6" cy="176.0" r="1.4" fill="#22f022" stroke="#18d018"/>
<circle cx="314.1" cy="176.8" r="1.4" fill="#22f022" stroke="#18d018"/>
<circle cx="317.9" cy="174.4" r="1.4" fill="#22f022" stroke="#18d018"/>
<circle cx="315.9" cy="173.7" r="1.4" fill="#22f022" stroke="#18d018"/>
<circle cx="315.3" cy="172.3" r="1.4" fill="#22f022" stroke="#18d018"/>
<circle cx="311.5" cy="181.4" r="1.4" fill="#22f022" stroke="#18d018"/>
<circle cx="314.0" cy="174.6" r="1.4" fill="#22f022" stroke="#18d018"/>
<circle cx="306.8" cy="172.4" r="1.4" fill="#22f022" stroke="#18d018"/>
<circle cx="312.9" cy="178.6" r="1.4" fill="#22f022" stroke="#18d018"/>
<circle cx="313.9" cy="177.1" r="1.4" fill="#22f022" stroke="#18d018"/>
<circle cx="311.8" cy="180.1" r="1.4" fill="#22f022" stroke="#18d018"/>
<circle cx="310.2" cy="173.2" r="1.4" fill="#22f022" stroke="#18d018"/>
<circle cx="316.0" cy="175.4" r="1.4" fill="#22f022" stroke="#18d018"/>
<circle cx="310.7" cy="173.1" r="1.4" fill="#22f022" stroke="#18d018"/>
<circle cx="310.8" cy="177.4" r="1.4" fill="#22f022" stroke="#18d018"/>
<circle cx="313.6" cy="170.8" r="1.4" fill="#22f022" stroke="#18d018"/>
<circle cx="313.9" cy="175.8" r="1.4" fill="#22f022" stroke="#18d018"/>
<circle cx="307.5" cy="178.0" r="1.4" fill="#22f022" stroke="#18d018"/>
<circle cx="310.7" cy="174.0" r="1.4" fill="#22f022" stroke="#18d018"/>
<circle cx="315.6" cy="180.0" r="1.4" fill="#22f022" stroke="#18d018"/>
<circle cx="308.9" cy="176.8" r="1.4" fill="#22f022" stroke="#18d018"/>
<circle cx="308.1" cy="183.5" r="1.4" fill="#22f022" stroke="#18d018"/>
<circle cx="309.8" cy="179.5" r="1.4" fill="#22f022" stroke="#18d018"/>
<circle cx="309.1" cy="178.1" r="1.4" fill="#22f022" stroke="#18d018"/>
<circle cx="322.0" cy="166.1" r="1.4" fill="#22f022" stroke="#18d018"/>
<circle cx="310.0" cy="177.0" r="1.4" fill="#22f022" stroke="#18d018"/>
<circle cx="311.6" cy="172.8" r="1.4" fill="#22f022" stroke="#18d018"/>
<circle cx="321.7" cy="175.5" r="1.4" fill="#22f022" stroke="#18d018"/>
<circle cx="304.6" cy="178.3" r="1.4" fill="#22f022" stroke="#18d018"/>
<circle cx="304.3" cy="179.3" r="1.4" fill="#22f022" stroke="#18d018"/>
<circle cx="309.4" cy="175.7" r="1.4" fill="#22f022" stroke="#18d018"/>
<circle cx="317.7" cy="175.6" r="1.4" fill="#22f022" stroke="#18d018"/>
<circle cx="305.7" cy="169.1" r="1.4" fill="#22f022" stroke="#18d018"/>
<circle cx="317.3" cy="177.9" r="1.4" fill="#22f022" stroke="#18d018"/>
<circle cx="308.3" cy="178.3" r="1.4" fill="#22f022" stroke="#18d018"/>
<circle cx="314.2" cy="177.5" r="1.4" fill="#22f022" stroke="#18d018"/>
<circle cx="301.8" cy="174.1" r="1.4" fill="#22f022" stroke="#18d018"/>
<circle cx="316.1" cy="177.8" r="1.4" fill="#22f022" stroke="#18d018"/>
<circle cx="316.0" cy="166.4" r="1.4" fill="#22f022" stroke="#18d018"/>
<circle cx="312.8" cy="177.0" r="1.4" fill="#22f022" stroke="#18d018"/>
<circle cx="323.5" cy="171.8" r="1.4" fill="#22f022" stroke="#18d018"/>
<circle cx="310.5" cy="175.3" r="1.4" fill="#22f022" stroke="#18d018"/>
<circle cx="316.0" cy="173.6" r="1.4" fill="#22f022" stroke="#18d018"/>
<circle cx="317.2" cy="172.4" r="1.4" fill="#22f022" stroke="#18d018"/>
<circle cx="313.2" cy="173.3" r="1.4" fill="#22f022" stroke="#18d018"/>
<circle cx="312.7" cy="172.7" r="1.4" fill="#22f022" stroke="#18d018"/>
<circle cx="304.8" cy="179.1" r="1.4" fill="#22f022" stroke="#18d018"/>
<circle cx="313.4" cy="173.2" r="1.4" fill="#22f022" stroke="#18d018"/>
<circle cx="312.9" cy="178.8" r="1.4" fill="#22f022" stroke="#18d018"/>
<circle cx="307.6" cy="174.8" r="1.4" fill="#22f022" stroke="#18d018"/>
<circle cx="314.4" cy="177.1" r="1.4" fill="#22f022" stroke="#18d018"/>
<circle cx="310.5" cy="167.6" r="1.4" fill="#22f022" stroke="#18d018"/>
<circle cx="317.6" cy="176.4" r="1.4" fill="#22f022" stroke="#18d018"/>
<circle cx="312.1" cy="174.2" r="1.4" fill="#22f022" stroke="#18d018"/>
<circle cx="313.2" cy="173.7" r="1.4" fill="#22f022" stroke="#18d018"/>
<circle cx="307.4" cy="172.5" r="1.4" fill="#22f022" stroke="#18d018"/>
<circle cx="309.3" cy="173.0" r="1.4" fill="#22f022" stroke="#18d018"/>
<circle cx="306.8" cy="177.5" r="1.4" fill="#22f022" stroke="#18d018"/>
<circle cx="306.1" cy="177.6" r="1.4" fill="#22f022" stroke="#18d018"/>
<circle cx="307.4" cy="176.5" r="1.4" fill="#22f022" stroke="#18d018"/>
<circle cx="318.2" cy="175.9" r="1.4" fill="#22f022" stroke="#18d018"/>
<circle cx="308.7" cy="175.4" r="1.4" fill="#22f022" stroke="#18d018"/>
<circle cx="312.7" cy="169.0" r="1.4" fill="#22f022" stroke="#18d018"/>
<circle cx="309.3" cy="175.8" r="1.4" fill="#22f022" stroke="#18d018"/>
<circle cx="309.9" cy="175.5" r="1.4" fill="#22f022" stroke="#18d018"/>
<circle cx="315.3" cy="178.0" r="1.4" fill="#22f022" stroke="#18d018"/>
<circle cx="316.1" cy="177.3" r="1.4" fill="#22f022" stroke="#18d018"/>
<circle cx="310.7" cy="175.1" r="1.4" fill="#22f022" stroke="#18d018"/>
<circle cx="299.6" cy="173.5" r="1.4" fill="#22f022" stroke="#18d018"/>
<circle cx="300.8" cy="182.1" r="1.4" fill="#22f022" stroke="#18d018"/>
<circle cx="316.9" cy="185.6" r="1.4" fill="#22f022" stroke="#18d018"/>
<circle cx="322.7" cy="184.4" r="1.4" fill="#22f022" stroke="#18d018"/>
<circle cx="331.9" cy="177.5" r="1.4" fill="#22f022" stroke="#18d018"/>
<circle cx="322.1" cy="166.0" r="1.4" fill="#22f022" stroke="#18d018"/>
<circle cx="323.3" cy="172.3" r="1.4" fill="#22f022" stroke="#18d018"/>
<circle cx="150.0" cy="126.6" r="1.4" fill="#3030d8" stroke="#1a1a98"/>
<circle cx="147.2" cy="121.4" r="1.4" fill="#3030d8" stroke="#1a1a98"/>
<circle cx="150.3" cy="128.0" r="1.4" fill="#3030d8" stroke="#1a1a98"/>
<circle cx="145.2" cy="131.9" r="1.4" fill="#3030d8" stroke="#1a1a98"/>
<circle cx="156.7" cy="122.3" r="1.4" fill="#3030d8" stroke="#1a1a98"/>
<circle cx="162.8" cy="104.7" r="1.4" fill="#3030d8" stroke="#1a1a98"/>
<circle cx="146.7" cy="121.2" r="1.4" fill="#3030d8" stroke="#1a1a98"/>
<circle cx="167.6" cy="128.9" r="1.4" fill="#3030d8" stroke="#1a1a98"/>
<circle cx="133.5" cy="141.7" r="1.4" fill="#3030d8" stroke="#1a1a98"/>
<circle cx="156.3" cy="121.8" r="1.4" fill="#3030d8" stroke="#1a1a98"/>
<circle cx="151.6" cy="115.2" r="1.4" fill="#3030d8" stroke="#1a1a98"/>
<circle cx="160.7" cy="122.0" r="1.4" fill="#3030d8" stroke="#1a1a98"/>
<circle cx="151.7" cy="123.9" r="1.4" fill="#3030d8" stroke="#1a1a98"/>
<circle cx="156.8" cy="120.5" r="1.4" fill="#3030d8" stroke="#1a1a98"/>
<circle cx="153.5" cy="122.9" r="1.4" fill="#3030d8" stroke="#1a1a98"/>
<circle cx="135.1" cy="139.6" r="1.4" fill="#3030d8" stroke="#1a1a98"/>
<circle cx="156.5" cy="127.3" r="1.4" fill="#3030d8" stroke="#1a1a98"/>
<circle cx="146.0" cy="131.2" r="1.4" fill="#3030d8" stroke="#1a1a98"/>
<circle cx="158.3" cy="122.7" r="1.4" fill="#3030d8" stroke="#1a1a98"/>
<circle cx="167.9" cy="125.0" r="1.4" fill="#3030d8" stroke="#1a1a98"/>
<circle cx="140.9" cy="125.2" r="1.4" fill="#3030d8" stroke="#1a1a98"/>
<circle cx="163.7" cy="125.9" r="1.4" fill="#3030d8" stroke="#1a1a98"/>
<circle cx="162.4" cy="123.1" r="1.4" fill="#3030d8" stroke="#1a1a98"/>
<circle cx="146.3" cy="127.4" r="1.4" fill="#3030d8" stroke="#1a1a98"/>
<circle cx="157.7" cy="117.5" r="1.4" fill="#3030d8" stroke="#1a1a98"/>
<circle cx="136.1" cy="133.7" r="1.4" fill="#3030d8" stroke="#1a1a98"/>
<circle cx="177.7" cy="117.2" r="1.4" fill="#3030d8" stroke="#1a1a98"/>
<circle cx="145.7" cy="127.8" r="1.4" fill="#3030d8" stroke="#1a1a98"/>
<circle cx="152.9" cy="122.1" r="1.4" fill="#3030d8" stroke="#1a1a98"/>
<circle cx="163.2" cy="117.7" r="1.4" fill="#3030d8" stroke="#1a1a98"/>
<circle cx="147.7" cy="137.0" r="1.4" fill="#3030d8" stroke="#1a1a98"/>
<circle cx="148.9" cy="130.3" r="1.4" fill="#3030d8" stroke="#1a1a98"/>
<circle cx="152.1" cy="125.0" r="1.4" fill="#3030d8" stroke="#1a1a98"/>
<circle cx="153.8" cy="121.7" r="1.4" fill="#3030d8" stroke="#1a1a98"/>
<circle cx="132.7" cy="129.9" r="1.4" fill="#3030d8" stroke="#1a1a98"/>
<circle cx="141.0" cy="131.2" r="1.4" fill="#3030d8" stroke="#1a1a98"/>
<circle cx="153.0" cy="126.3" r="1.4" fill="#3030d8" stroke="#1a1a98"/>
<circle cx="157.7" cy="123.0" r="1.4" fill="#3030d8" stroke="#1a1a98"/>
<circle cx="144.9" cy="128.5" r="1.4" fill="#3030d8" stroke="#1a1a98"/>
<circle cx="135.8" cy="138.4" r="1.4" fill="#3030d8" stroke="#1a1a98"/>
<circle cx="158.2" cy="124.8" r="1.4" fill="#3030d8" stroke="#1a1a98"/>
<circle cx="151.6" cy="126.2" r="1.4" fill="#3030d8" stroke="#1a1a98"/>
<circle cx="160.5" cy="120.3" r="1.4" fill="#3030d8" stroke="#1a1a98"/>
<circle cx="160.3" cy="123.4" r="1.4" fill="#3030d8" stroke="#1a1a98"/>
<circle cx="158.0" cy="129.0" r="1.4" fill="#3030d8" stroke="#1a1a98"/>
<circle cx="177.0" cy="105.8" r="1.4" fill="#3030d8" stroke="#1a1a98"/>
<circle cx="175.1" cy="105.3" r="1.4" fill="#3030d8" stroke="#1a1a98"/>
<circle cx="189.9" cy="105.1" r="1.4" fill="#3030d8" stroke="#1a1a98"/>
<circle cx="181.3" cy="106.5" r="1.4" fill="#3030d8" stroke="#1a1a98"/>
<circle cx="186.4" cy="103.7" r="1.4" fill="#3030d8" stroke="#1a1a98"/>
<circle cx="182.1" cy="97.8" r="1.4" fill="#3030d8" stroke="#1a1a98"/>
<circle cx="178.4" cy="108.2" r="1.4" fill="#3030d8" stroke="#1a1a98"/>
<circle cx="185.9" cy="100.9" r="1.4" fill="#3030d8" stroke="#1a1a98"/>
<circle cx="175.8" cy="106.6" r="1.4" fill="#3030d8" stroke="#1a1a98"/>
<circle cx="175.6" cy="104.6" r="1.4" fill="#3030d8" stroke="#1a1a98"/>
<circle cx="184.6" cy="98.7" r="1.4" fill="#3030d8" stroke="#1a1a98"/>
<circle cx="184.7" cy="110.9" r="1.4" fill="#3030d8" stroke="#1a1a98"/>
<circle cx="185.4" cy="102.3" r="1.4" fill="#3030d8" stroke="#1a1a98"/>
<circle cx="178.5" cy="108.0" r="1.4" fill="#3030d8" stroke="#1a1a98"/>
<circle cx="187.8" cy="101.8" r="1.4" fill="#3030d8" stroke="#1a1a98"/>
<circle cx="185.2" cy="101.4" r="1.4" fill="#3030d8" stroke="#1a1a98"/>
<circle cx="181.6" cy="102.9" r="1.4" fill="#3030d8" stroke="#1a1a98"/>
<circle cx="184.5" cy="107.3" r="1.4" fill="#3030d8" stroke="#1a1a98"/>
<circle cx="174.2" cy="109.2" r="1.4" fill="#3030d8" stroke="#1a1a98"/>
<circle cx="179.7" cy="102.7" r="1.4" fill="#3030d8" stroke="#1a1a98"/>
<circle cx="234.8" cy="55.9" r="1.4" fill="#f4d818" stroke="#eccc10"/>
<circle cx="243.7" cy="39.7" r="1.4" fill="#f4d818" stroke="#eccc10"/>
<circle cx="228.4" cy="46.2" r="1.4" fill="#f4d818" stroke="#eccc10"/>
<circle cx="241.2" cy="39.0" r="1.4" fill="#f4d818" stroke="#eccc10"/>
<circle cx="228.5" cy="49.6" r="1.4" fill="#f4d818" stroke="#eccc10"/>
<circle cx="228.5" cy="49.9" r="1.4" fill="#f4d818" stroke="#eccc10"/>
<circle cx="235.1" cy="52.6" r="1.4" fill="#f4d818" stroke="#eccc10"/>
<circle cx="234.2" cy="52.4" r="1.4" fill="#f4d818" stroke="#eccc10"/>
<circle cx="235.0" cy="61.2" r="1.4" fill="#f4d818" stroke="#eccc10"/>
<circle cx="223.3" cy="52.3" r="1.4" fill="#f4d818" stroke="#eccc10"/>
<circle cx="229.3" cy="51.5" r="1.4" fill="#f4d818" stroke="#eccc10"/>
<circle cx="227.5" cy="58.1" r="1.4" fill="#f4d818" stroke="#eccc10"/>
<circle cx="229.6" cy="47.3" r="1.4" fill="#f4d818" stroke="#eccc10"/>
<circle cx="237.9" cy="56.2" r="1.4" fill="#f4d818" stroke="#eccc10"/>
<circle cx="235.2" cy="47.0" r="1.4" fill="#f4d818" stroke="#eccc10"/>
<circle cx="233.1" cy="50.8" r="1.4" fill="#f4d818" stroke="#eccc10"/>
<circle cx="235.6" cy="54.0" r="1.4" fill="#f4d818" stroke="#eccc10"/>
<circle cx="223.3" cy="47.1" r="1.4" fill="#f4d818" stroke="#eccc10"/>
<circle cx="229.5" cy="50.1" r="1.4" fill="#f4d818" stroke="#eccc10"/>
<circle cx="233.3" cy="46.1" r="1.4" fill="#f4d818" stroke="#eccc10"/>
<circle cx="242.0" cy="56.0" r="1.4" fill="#f4d818" stroke="#eccc10"/>
<circle cx="224.3" cy="56.6" r="1.4" fill="#f4d818" stroke="#eccc10"/>
<circle cx="217.9" cy="56.1" r="1.4" fill="#f4d818" stroke="#eccc10"/>
<circle cx="226.7" cy="65.7" r="1.4" fill="#f4d818" stroke="#eccc10"/>
<circle cx="223.2" cy="52.0" r="1.4" fill="#f4d818" stroke="#eccc10"/>
<circle cx="229.3" cy="63.6" r="1.4" fill="#f4d818" stroke="#eccc10"/>
<circle cx="228.4" cy="56.5" r="1.4" fill="#f4d818" stroke="#eccc10"/>
<circle cx="239.6" cy="52.9" r="1.4" fill="#f4d818" stroke="#eccc10"/>
<circle cx="245.0" cy="41.1" r="1.4" fill="#f4d818" stroke="#eccc10"/>
<circle cx="234.3" cy="51.4" r="1.4" fill="#f4d818" stroke="#eccc10"/>
<circle cx="245.9" cy="42.9" r="1.4" fill="#f4d818" stroke="#eccc10"/>
<circle cx="233.5" cy="55.2" r="1.4" fill="#f4d818" stroke="#eccc10"/>
<circle cx="234.4" cy="50.2" r="1.4" fill="#f4d818" stroke="#eccc10"/>
<circle cx="225.8" cy="52.4" r="1.4" fill="#f4d818" stroke="#eccc10"/>
<circle cx="224.8" cy="52.1" r="1.4" fill="#f4d818" stroke="#eccc10"/>
<circle cx="240.1" cy="44.9" r="1.4" fill="#f4d818" stroke="#eccc10"/>
<circle cx="233.4" cy="63.5" r="1.4" fill="#f4d818" stroke="#eccc10"/>
<circle cx="229.3" cy="41.5" r="1.4" fill="#f4d818" stroke="#eccc10"/>
<circle cx="240.5" cy="53.4" r="1.4" fill="#f4d818" stroke="#eccc10"/>
<circle cx="241.2" cy="47.3" r="1.4" fill="#f4d818" stroke="#eccc10"/>
<circle cx="236.6" cy="52.3" r="1.4" fill="#f4d818" stroke="#eccc10"/>
<circle cx="235.6" cy="51.5" r="1.4" fill="#f4d818" stroke="#eccc10"/>
<circle cx="238.2" cy="46.5" r="1.4" fill="#f4d818" stroke="#eccc10"/>
<circle cx="231.3" cy="46.8" r="1.4" fill="#f4d818" stroke="#eccc10"/>
<circle cx="233.3" cy="49.2" r="1.4" fill="#f4d818" stroke="#eccc10"/>
<circle cx="236.1" cy="51.8" r="1.4" fill="#f4d818" stroke="#eccc10"/>
<circle cx="261.6" cy="265.4" r="1.4" fill="#c02424" stroke="#901a1a"/>
<circle cx="251.1" cy="256.2" r="1.4" fill="#c02424" stroke="#901a1a"/>
<circle cx="258.2" cy="254.6" r="1.4" fill="#c02424" stroke="#901a1a"/>
<circle cx="256.7" cy="242.9" r="1.4" fill="#c02424" stroke="#901a1a"/>
<circle cx="254.6" cy="261.0" r="1.4" fill="#c02424" stroke="#901a1a"/>
<circle cx="245.0" cy="251.4" r="1.4" fill="#c02424" stroke="#901a1a"/>
<circle cx="249.1" cy="241.7" r="1.4" fill="#c02424" stroke="#901a1a"/>
<circle cx="255.9" cy="253.5" r="1.4" fill="#c02424" stroke="#901a1a"/>
<circle cx="259.6" cy="240.9" r="1.4" fill="#c02424" stroke="#901a1a"/>
<circle cx="255.9" cy="242.3" r="1.4" fill="#c02424" stroke="#901a1a"/>
<circle cx="260.4" cy="263.6" r="1.4" fill="#c02424" stroke="#901a1a"/>
<circle cx="268.9" cy="259.9" r="1.4" fill="#c02424" stroke="#901a1a"/>
<circle cx="264.2" cy="264.6" r="1.4" fill="#c02424" stroke="#901a1a"/>
<circle cx="258.5" cy="252.6" r="1.4" fill="#c02424" stroke="#901a1a"/>
<circle cx="270.1" cy="249.8" r="1.4" fill="#c02424" stroke="#901a1a"/>
<circle cx="257.1" cy="251.9" r="1.4" fill="#c02424" stroke="#901a1a"/>
<circle cx="261.1" cy="240.7" r="1.4" fill="#c02424" stroke="#901a1a"/>
<circle cx="252.0" cy="252.1" r="1.4" fill="#c02424" stroke="#901a1a"/>
<circle cx="262.4" cy="243.1" r="1.4" fill="#c02424" stroke="#901a1a"/>
<circle cx="265.2" cy="248.8" r="1.4" fill="#c02424" stroke="#901a1a"/>
<circle cx="260.0" cy="260.7" r="1.4" fill="#c02424" stroke="#901a1a"/>
<circle cx="246.8" cy="251.9" r="1.4" fill="#c02424" stroke="#901a1a"/>
<circle cx="255.0" cy="247.3" r="1.4" fill="#c02424" stroke="#901a1a"/>
<circle cx="259.3" cy="246.8" r="1.4" fill="#c02424" stroke="#901a1a"/>
<circle cx="260.9" cy="238.6" r="1.4" fill="#c02424" stroke="#901a1a"/>
<circle cx="251.6" cy="262.0" r="1.4" fill="#c02424" stroke="#901a1a"/>
<circle cx="251.2" cy="258.3" r="1.4" fill="#c02424" stroke="#901a1a"/>
<circle cx="269.3" cy="259.6" r="1.4" fill="#c02424" stroke="#901a1a"/>
<circle cx="270.9" cy="254.2" r="1.4" fill="#c02424" stroke="#901a1a"/>
<circle cx="257.8" cy="259.6" r="1.4" fill="#c02424" stroke="#901a1a"/>
<circle cx="245.4" cy="251.7" r="1.4" fill="#c02424" stroke="#901a1a"/>
<circle cx="264.8" cy="244.9" r="1.4" fill="#c02424" stroke="#901a1a"/>
<circle cx="251.5" cy="253.8" r="1.4" fill="#c02424" stroke="#901a1a"/>
<circle cx="258.6" cy="239.8" r="1.4" fill="#c02424" stroke="#901a1a"/>
<circle cx="251.1" cy="240.6" r="1.4" fill="#c02424" stroke="#901a1a"/>
<circle cx="254.4" cy="260.6" r="1.4" fill="#c02424" stroke="#901a1a"/>
<circle cx="261.5" cy="246.0" r="1.4" fill="#c02424" stroke="#901a1a"/>
<circle cx="257.7" cy="238.5" r="1.4" fill="#c02424" stroke="#901a1a"/>
<circle cx="252.7" cy="254.5" r="1.4" fill="#c02424" stroke="#901a1a"/>
<circle cx="247.7" cy="245.0" r="1.4" fill="#c02424" stroke="#901a1a"/>
<circle cx="253.1" cy="253.3" r="1.4" fill="#c02424" stroke="#901a1a"/>
<circle cx="259.3" cy="266.9" r="1.4" fill="#c02424" stroke="#901a1a"/>
<circle cx="256.3" cy="259.0" r="1.4" fill="#c02424" stroke="#901a1a"/>
<circle cx="264.7" cy="240.4" r="1.4" fill="#c02424" stroke="#901a1a"/>
<circle cx="261.5" cy="257.5" r="1.4" fill="#c02424" stroke="#901a1a"/>
<circle cx="255.0" cy="259.4" r="1.4" fill="#c02424" stroke="#901a1a"/>
<circle cx="263.7" cy="261.9" r="1.4" fill="#c02424" stroke="#901a1a"/>
<circle cx="261.3" cy="260.8" r="1.4" fill="#c02424" stroke="#901a1a"/>
<circle cx="256.5" cy="236.1" r="1.4" fill="#c02424" stroke="#901a1a"/>
<circle cx="263.0" cy="250.5" r="1.4" fill="#c02424" stroke="#901a1a"/>
<circle cx="254.7" cy="255.6" r="1.4" fill="#c02424" stroke="#901a1a"/>
<circle cx="262.0" cy="236.5" r="1.4" fill="#c02424" stroke="#901a1a"/>
<circle cx="247.5" cy="257.3" r="1.4" fill="#c02424" stroke="#901a1a"/>
<circle cx="254.1" cy="245.9" r="1.4" fill="#c02424" stroke="#901a1a"/>
<circle cx="259.6" cy="257.4" r="1.4" fill="#c02424" stroke="#901a1a"/>
<circle cx="266.9" cy="254.0" r="1.4" fill="#c02424" stroke="#901a1a"/>
<circle cx="260.6" cy="241.6" r="1.4" fill="#c02424" stroke="#901a1a"/>
<circle cx="246.9" cy="251.8" r="1.4" fill="#c02424" stroke="#901a1a"/>
<circle cx="247.6" cy="254.8" r="1.4" fill="#c02424" stroke="#901a1a"/>
<circle cx="253.8" cy="247.8" r="1.4" fill="#c02424" stroke="#901a1a"/>
<circle cx="257.8" cy="241.2" r="1.4" fill="#c02424" stroke="#901a1a"/>
<circle cx="246.6" cy="258.3" r="1.4" fill="#c02424" stroke="#901a1a"/>
<circle cx="258.2" cy="239.3" r="1.4" fill="#c02424" stroke="#901a1a"/>
<circle cx="259.5" cy="262.5" r="1.4" fill="#c02424" stroke="#901a1a"/>
<circle cx="266.8" cy="242.3" r="1.4" fill="#c02424" stroke="#901a1a"/>
<circle cx="254.6" cy="238.2" r="1.4" fill="#c02424" stroke="#901a1a"/>
<circle cx="252.9" cy="238.3" r="1.4" fill="#c02424" stroke="#901a1a"/>
<circle cx="247.7" cy="255.5" r="1.4" fill="#c02424" stroke="#901a1a"/>
<circle cx="252.8" cy="245.0" r="1.4" fill="#c02424" stroke="#901a1a"/>
<circle cx="254.1" cy="254.5" r="1.4" fill="#c02424" stroke="#901a1a"/>
<circle cx="255.5" cy="237.9" r="1.4" fill="#c02424" stroke="#901a1a"/>
<circle cx="258.3" cy="264.8" r="1.4" fill="#c02424" stroke="#901a1a"/>
<circle cx="249.5" cy="254.8" r="1.4" fill="#c02424" stroke="#901a1a"/>
<circle cx="249.1" cy="258.8" r="1.4" fill="#c02424" stroke="#901a1a"/>
<circle cx="268.5" cy="246.1" r="1.4" fill="#c02424" stroke="#901a1a"/>
<circle cx="254.7" cy="245.6" r="1.4" fill="#c02424" stroke="#901a1a"/>
<circle cx="249.1" cy="261.0" r="1.4" fill="#c02424" stroke="#901a1a"/>
<circle cx="268.0" cy="250.0" r="1.4" fill="#c02424" stroke="#901a1a"/>
<circle cx="255.3" cy="250.8" r="1.4" fill="#c02424" stroke="#901a1a"/>
<circle cx="259.5" cy="244.9" r="1.4" fill="#c02424" stroke="#901a1a"/>
<circle cx="245.3" cy="249.9" r="1.4" fill="#c02424" stroke="#901a1a"/>
<circle cx="254.0" cy="249.2" r="1.4" fill="#c02424" stroke="#901a1a"/>
<circle cx="256.2" cy="239.9" r="1.4" fill="#c02424" stroke="#901a1a"/>
<circle cx="251.9" cy="242.7" r="1.4" fill="#c02424" stroke="#901a1a"/>
<circle cx="246.0" cy="249.8" r="1.4" fill="#c02424" stroke="#901a1a"/>
<circle cx="266.9" cy="248.4" r="1.4" fill="#c02424" stroke="#901a1a"/>
<circle cx="255.6" cy="244.5" r="1.4" fill="#c02424" stroke="#901a1a"/>
<circle cx="259.0" cy="241.3" r="1.4" fill="#c02424" stroke="#901a1a"/>
<circle cx="263.5" cy="251.2" r="1.4" fill="#c02424" stroke="#901a1a"/>
<circle cx="266.2" cy="255.3" r="1.4" fill="#c02424" stroke="#901a1a"/>
<circle cx="252.2" cy="257.1" r="1.4" fill="#c02424" stroke="#901a1a"/>
<circle cx="256.6" cy="252.9" r="1.4" fill="#c02424" stroke="#901a1a"/>
<circle cx="255.4" cy="241.5" r="1.4" fill="#c02424" stroke="#901a1a"/>
<circle cx="257.5" cy="261.8" r="1.4" fill="#c02424" stroke="#901a1a"/>
<circle cx="257.9" cy="243.6" r="1.4" fill="#c02424" stroke="#901a1a"/>
<circle cx="245.4" cy="249.2" r="1.4" fill="#c02424" stroke="#901a1a"/>
<circle cx="260.5" cy="244.1" r="1.4" fill="#c02424" stroke="#901a1a"/>
<circle cx="260.4" cy="262.0" r="1.4" fill="#c02424" stroke="#901a1a"/>
<circle cx="259.2" cy="245.5" r="1.4" fill="#c02424" stroke="#901a1a"/>
<circle cx="250.1" cy="240.9" r="1.4" fill="#c02424" stroke="#901a1a"/>
<circle cx="249.4" cy="247.5" r="1.4" fill="#c02424" stroke="#901a1a"/>
<circle cx="265.0" cy="250.0" r="1.4" fill="#c02424" stroke="#901a1a"/>
<circle cx="252.9" cy="244.1" r="1.4" fill="#c02424" stroke="#901a1a"/>
<circle cx="263.3" cy="238.4" r="1.4" fill="#c02424" stroke="#901a1a"/>
<circle cx="255.7" cy="262.7" r="1.4" fill="#c02424" stroke="#901a1a"/>
<circle cx="265.6" cy="260.4" r="1.4" fill="#c02424" stroke="#901a1a"/>
<circle cx="250.7" cy="263.5" r="1.4" fill="#c02424" stroke="#901a1a"/>
<circle cx="256.9" cy="266.6" r="1.4" fill="#c02424" stroke="#901a1a"/>
<circle cx="258.1" cy="262.1" r="1.4" fill="#c02424" stroke="#901a1a"/>
<circle cx="261.9" cy="261.8" r="1.4" fill="#c02424" stroke="#901a1a"/>
<circle cx="258.1" cy="250.7" r="1.4" fill="#c02424" stroke="#901a1a"/>
<circle cx="258.5" cy="260.8" r="1.4" fill="#c02424" stroke="#901a1a"/>
<circle cx="250.5" cy="253.0" r="1.4" fill="#c02424" stroke="#901a1a"/>
<circle cx="252.3" cy="243.5" r="1.4" fill="#c02424" stroke="#901a1a"/>
<circle cx="251.0" cy="261.9" r="1.4" fill="#c02424" stroke="#901a1a"/>
<circle cx="266.3" cy="239.5" r="1.4" fill="#c02424" stroke="#901a1a"/>
<circle cx="260.0" cy="247.9" r="1.4" fill="#c02424" stroke="#901a1a"/>
<circle cx="261.0" cy="236.8" r="1.4" fill="#c02424" stroke="#901a1a"/>
<circle cx="261.0" cy="246.0" r="1.4" fill="#c02424" stroke="#901a1a"/>
<circle cx="269.2" cy="253.0" r="1.4" fill="#c02424" stroke="#901a1a"/>
<circle cx="260.0" cy="251.2" r="1.4" fill="#c02424" stroke="#901a1a"/>
<circle cx="258.3" cy="265.0" r="1.4" fill="#c02424" stroke="#901a1a"/>
<circle cx="261.3" cy="256.3" r="1.4" fill="#c02424" stroke="#901a1a"/>
<circle cx="259.5" cy="243.6" r="1.4" fill="#c02424" stroke="#901a1a"/>
<circle cx="263.1" cy="259.9" r="1.4" fill="#c02424" stroke="#901a1a"/>
<circle cx="261.6" cy="237.0" r="1.4" fill="#c02424" stroke="#901a1a"/>
<circle cx="263.0" cy="247.3" r="1.4" fill="#c02424" stroke="#901a1a"/>
<circle cx="260.4" cy="239.3" r="1.4" fill="#c02424" stroke="#901a1a"/>
<circle cx="267.2" cy="243.5" r="1.4" fill="#c02424" stroke="#901a1a"/>
<circle cx="264.7" cy="239.6" r="1.4" fill="#c02424" stroke="#901a1a"/>
<circle cx="256.0" cy="244.6" r="1.4" fill="#c02424" stroke="#901a1a"/>
<circle cx="257.8" cy="239.8" r="1.4" fill="#c02424" stroke="#901a1a"/>
<circle cx="265.2" cy="244.4" r="1.4" fill="#c02424" stroke="#901a1a"/>
<circle cx="257.4" cy="264.0" r="1.4" fill="#c02424" stroke="#901a1a"/>
<circle cx="262.8" cy="258.2" r="1.4" fill="#c02424" stroke="#901a1a"/>
<circle cx="267.5" cy="256.0" r="1.4" fill="#c02424" stroke="#901a1a"/>
<circle cx="264.2" cy="260.8" r="1.4" fill="#c02424" stroke="#901a1a"/>
<circle cx="248.5" cy="251.9" r="1.4" fill="#c02424" stroke="#901a1a"/>
<circle cx="265.0" cy="242.6" r="1.4" fill="#c02424" stroke="#901a1a"/>
<circle cx="259.1" cy="250.4" r="1.4" fill="#c02424" stroke="#901a1a"/>
<circle cx="249.4" cy="247.4" r="1.4" fill="#c02424" stroke="#901a1a"/>
<circle cx="264.4" cy="240.6" r="1.4" fill="#c02424" stroke="#901a1a"/>
<circle cx="250.7" cy="256.8" r="1.4" fill="#c02424" stroke="#901a1a"/>
<circle cx="270.1" cy="259.0" r="1.4" fill="#c02424" stroke="#901a1a"/>
<circle cx="251.1" cy="241.9" r="1.4" fill="#c02424" stroke="#901a1a"/>
<circle cx="256.2" cy="249.7" r="1.4" fill="#c02424" stroke="#901a1a"/>
<circle cx="268.6" cy="246.2" r="1.4" fill="#c02424" stroke="#901a1a"/>
<circle cx="266.4" cy="250.7" r="1.4" fill="#c02424" stroke="#901a1a"/>
<circle cx="248.4" cy="252.9" r="1.4" fill="#c02424" stroke="#901a1a"/>
<circle cx="270.9" cy="255.0" r="1.4" fill="#c02424" stroke="#901a1a"/>
<circle cx="250.1" cy="242.0" r="1.4" fill="#c02424" stroke="#901a1a"/>
<circle cx="263.7" cy="244.3" r="1.4" fill="#c02424" stroke="#901a1a"/>
<circle cx="249.8" cy="253.4" r="1.4" fill="#c02424" stroke="#901a1a"/>
<circle cx="259.6" cy="239.9" r="1.4" fill="#c02424" stroke="#901a1a"/>
<circle cx="252.1" cy="254.9" r="1.4" fill="#c02424" stroke="#901a1a"/>
<circle cx="249.7" cy="248.2" r="1.4" fill="#c02424" stroke="#901a1a"/>
<circle cx="255.0" cy="266.0" r="1.4" fill="#c02424" stroke="#901a1a"/>
<circle cx="248.1" cy="260.2" r="1.4" fill="#c02424" stroke="#901a1a"/>
<circle cx="257.0" cy="263.4" r="1.4" fill="#c02424" stroke="#901a1a"/>
<circle cx="268.1" cy="250.0" r="1.4" fill="#c02424" stroke="#901a1a"/>
<circle cx="261.2" cy="239.0" r="1.4" fill="#c02424" stroke="#901a1a"/>
<circle cx="254.9" cy="260.7" r="1.4" fill="#c02424" stroke="#901a1a"/>
<circle cx="251.6" cy="247.0" r="1.4" fill="#c02424" stroke="#901a1a"/>
<circle cx="260.6" cy="239.1" r="1.4" fill="#c02424" stroke="#901a1a"/>
<circle cx="257.8" cy="248.1" r="1.4" fill="#c02424" stroke="#901a1a"/>
<circle cx="246.0" cy="247.5" r="1.4" fill="#c02424" stroke="#901a1a"/>
<circle cx="257.2" cy="255.7" r="1.4" fill="#c02424" stroke="#901a1a"/>
<circle cx="258.8" cy="253.3" r="1.4" fill="#c02424" stroke="#901a1a"/>
<circle cx="248.2" cy="242.1" r="1.4" fill="#c02424" stroke="#901a1a"/>
<circle cx="261.0" cy="238.9" r="1.4" fill="#c02424" stroke="#901a1a"/>
<circle cx="248.4" cy="241.9" r="1.4" fill="#c02424" stroke="#901a1a"/>
<circle cx="250.7" cy="242.6" r="1.4" fill="#c02424" stroke="#901a1a"/>
<circle cx="248.9" cy="244.1" r="1.4" fill="#c02424" stroke="#901a1a"/>
<circle cx="261.0" cy="264.9" r="1.4" fill="#c02424" stroke="#901a1a"/>
<circle cx="247.4" cy="255.3" r="1.4" fill="#c02424" stroke="#901a1a"/>
<circle cx="267.9" cy="260.2" r="1.4" fill="#c02424" stroke="#901a1a"/>
<circle cx="264.4" cy="253.5" r="1.4" fill="#c02424" stroke="#901a1a"/>
<circle cx="268.6" cy="244.5" r="1.4" fill="#c02424" stroke="#901a1a"/>
<circle cx="250.7" cy="261.5" r="1.4" fill="#c02424" stroke="#901a1a"/>
<circle cx="261.1" cy="237.5" r="1.4" fill="#c02424" stroke="#901a1a"/>
<circle cx="257.8" cy="264.1" r="1.4" fill="#c02424" stroke="#901a1a"/>
<circle cx="251.4" cy="256.2" r="1.4" fill="#c02424" stroke="#901a1a"/>
<circle cx="251.0" cy="255.8" r="1.4" fill="#c02424" stroke="#901a1a"/>
<circle cx="268.4" cy="246.5" r="1.4" fill="#c02424" stroke="#901a1a"/>
<circle cx="255.0" cy="250.0" r="1.4" fill="#c02424" stroke="#901a1a"/>
<circle cx="260.6" cy="254.3" r="1.4" fill="#c02424" stroke="#901a1a"/>
<circle cx="247.4" cy="245.2" r="1.4" fill="#c02424" stroke="#901a1a"/>
<circle cx="246.0" cy="256.9" r="1.4" fill="#c02424" stroke="#901a1a"/>
<circle cx="256.8" cy="253.3" r="1.4" fill="#c02424" stroke="#901a1a"/>
<circle cx="268.2" cy="247.0" r="1.4" fill="#c02424" stroke="#901a1a"/>
<circle cx="245.1" cy="254.2" r="1.4" fill="#c02424" stroke="#901a1a"/>
<circle cx="265.6" cy="258.2" r="1.4" fill="#c02424" stroke="#901a1a"/>
<circle cx="260.9" cy="264.6" r="1.4" fill="#c02424" stroke="#901a1a"/>
<circle cx="264.1" cy="252.5" r="1.4" fill="#c02424" stroke="#901a1a"/>
<circle cx="257.8" cy="250.5" r="1.4" fill="#c02424" stroke="#901a1a"/>
<circle cx="263.4" cy="250.5" r="1.4" fill="#c02424" stroke="#901a1a"/>
<circle cx="261.4" cy="247.9" r="1.4" fill="#c02424" stroke="#901a1a"/>
<circle cx="263.6" cy="252.5" r="1.4" fill="#c02424" stroke="#901a1a"/>
<circle cx="258.9" cy="265.6" r="1.4" fill="#c02424" stroke="#901a1a"/>
<circle cx="262.8" cy="264.7" r="1.4" fill="#c02424" stroke="#901a1a"/>
<circle cx="258.8" cy="247.7" r="1.4" fill="#c02424" stroke="#901a1a"/>
<circle cx="265.4" cy="241.0" r="1.4" fill="#c02424" stroke="#901a1a"/>
<circle cx="268.4" cy="258.8" r="1.4" fill="#c02424" stroke="#901a1a"/>
<circle cx="255.5" cy="239.2" r="1.4" fill="#c02424" stroke="#901a1a"/>
<circle cx="267.0" cy="247.1" r="1.4" fill="#c02424" stroke="#901a1a"/>
<circle cx="265.4" cy="249.9" r="1.4" fill="#c02424" stroke="#901a1a"/>
<circle cx="269.9" cy="252.8" r="1.4" fill="#c02424" stroke="#901a1a"/>
<circle cx="257.1" cy="249.9" r="1.4" fill="#c02424" stroke="#901a1a"/>
<circle cx="269.1" cy="258.8" r="1.4" fill="#c02424" stroke="#901a1a"/>
<circle cx="257.3" cy="242.4" r="1.4" fill="#c02424" stroke="#901a1a"/>
<circle cx="262.2" cy="246.3" r="1.4" fill="#c02424" stroke="#901a1a"/>
<circle cx="267.4" cy="256.0" r="1.4" fill="#c02424" stroke="#901a1a"/>
<circle cx="250.6" cy="247.2" r="1.4" fill="#c02424" stroke="#901a1a"/>
<circle cx="254.2" cy="241.9" r="1.4" fill="#c02424" stroke="#901a1a"/>
<circle cx="260.0" cy="245.4" r="1.4" fill="#c02424" stroke="#901a1a"/>
<circle cx="253.0" cy="243.8" r="1.4" fill="#c02424" stroke="#901a1a"/>
<circle cx="248.8" cy="258.2" r="1.4" fill="#c02424" stroke="#901a1a"/>
<circle cx="260.3" cy="241.6" r="1.4" fill="#c02424" stroke="#901a1a"/>
<circle cx="261.1" cy="236.6" r="1.4" fill="#c02424" stroke="#901a1a"/>
<circle cx="255.5" cy="263.8" r="1.4" fill="#c02424" stroke="#901a1a"/>
<circle cx="262.1" cy="251.1" r="1.4" fill="#c02424" stroke="#901a1a"/>
<circle cx="263.7" cy="239.7" r="1.4" fill="#c02424" stroke="#901a1a"/>
<circle cx="251.8" cy="245.8" r="1.4" fill="#c02424" stroke="#901a1a"/>
<circle cx="264.8" cy="238.0" r="1.4" fill="#c02424" stroke="#901a1a"/>
<circle cx="254.4" cy="263.7" r="1.4" fill="#c02424" stroke="#901a1a"/>
<circle cx="265.3" cy="244.7" r="1.4" fill="#c02424" stroke="#901a1a"/>
<circle cx="254.8" cy="242.3" r="1.4" fill="#c02424" stroke="#901a1a"/>
<circle cx="266.8" cy="244.1" r="1.4" fill="#c02424" stroke="#901a1a"/>
<circle cx="255.8" cy="266.0" r="1.4" fill="#c02424" stroke="#901a1a"/>
<circle cx="258.2" cy="252.7" r="1.4" fill="#c02424" stroke="#901a1a"/>
<circle cx="250.5" cy="246.2" r="1.4" fill="#c02424" stroke="#901a1a"/>
<circle cx="267.7" cy="242.3" r="1.4" fill="#c02424" stroke="#901a1a"/>
<circle cx="259.9" cy="248.5" r="1.4" fill="#c02424" stroke="#901a1a"/>
<circle cx="266.6" cy="241.0" r="1.4" fill="#c02424" stroke="#901a1a"/>
<circle cx="256.7" cy="264.1" r="1.4" fill="#c02424" stroke="#901a1a"/>
<circle cx="262.7" cy="237.9" r="1.4" fill="#c02424" stroke="#901a1a"/>
<circle cx="268.1" cy="244.8" r="1.4" fill="#c02424" stroke="#901a1a"/>
<circle cx="265.5" cy="256.9" r="1.4" fill="#c02424" stroke="#901a1a"/>
<circle cx="261.3" cy="240.1" r="1.4" fill="#c02424" stroke="#901a1a"/>
<circle cx="258.3" cy="244.0" r="1.4" fill="#c02424" stroke="#901a1a"/>
<circle cx="259.6" cy="267.2" r="1.4" fill="#c02424" stroke="#901a1a"/>
<circle cx="253.6" cy="240.3" r="1.4" fill="#c02424" stroke="#901a1a"/>
<circle cx="260.9" cy="262.7" r="1.4" fill="#c02424" stroke="#901a1a"/>
<circle cx="258.4" cy="243.2" r="1.4" fill="#c02424" stroke="#901a1a"/>
<circle cx="246.5" cy="255.4" r="1.4" fill="#c02424" stroke="#901a1a"/>
<circle cx="259.9" cy="246.8" r="1.4" fill="#c02424" stroke="#901a1a"/>
<circle cx="259.6" cy="266.0" r="1.4" fill="#c02424" stroke="#901a1a"/>
<circle cx="266.7" cy="244.2" r="1.4" fill="#c02424" stroke="#901a1a"/>
<circle cx="245.6" cy="249.7" r="1.4" fill="#c02424" stroke="#901a1a"/>
<circle cx="250.1" cy="245.7" r="1.4" fill="#c02424" stroke="#901a1a"/>
<circle cx="260.6" cy="258.9" r="1.4" fill="#c02424" stroke="#901a1a"/>
<circle cx="256.4" cy="244.7" r="1.4" fill="#c02424" stroke="#901a1a"/>
<circle cx="250.4" cy="247.8" r="1.4" fill="#c02424" stroke="#901a1a"/>
<circle cx="249.4" cy="250.7" r="1.4" fill="#c02424" stroke="#901a1a"/>
<circle cx="263.8" cy="253.7" r="1.4" fill="#c02424" stroke="#901a1a"/>
<circle cx="248.8" cy="263.2" r="1.4" fill="#c02424" stroke="#901a1a"/>
<circle cx="255.0" cy="247.5" r="1.4" fill="#c02424" stroke="#901a1a"/>
<circle cx="265.0" cy="263.7" r="1.4" fill="#c02424" stroke="#901a1a"/>
<circle cx="252.3" cy="262.3" r="1.4" fill="#c02424" stroke="#901a1a"/>
<circle cx="268.3" cy="253.3" r="1.4" fill="#c02424" stroke="#901a1a"/>
<circle cx="270.8" cy="237.2" r="1.4" fill="#c02424" stroke="#901a1a"/>
<circle cx="273.5" cy="244.6" r="1.4" fill="#c02424" stroke="#901a1a"/>
<circle cx="276.3" cy="253.2" r="1.4" fill="#c02424" stroke="#901a1a"/>
<circle cx="250.6" cy="268.5" r="1.4" fill="#c02424" stroke="#901a1a"/>
<circle cx="262.6" cy="269.0" r="1.4" fill="#c02424" stroke="#901a1a"/>
<circle cx="248.5" cy="235.0" r="1.4" fill="#c02424" stroke="#901a1a"/>
<circle cx="262.0" cy="234.2" r="1.4" fill="#c02424" stroke="#901a1a"/>
<circle cx="256.0" cy="243.0" r="1.4" fill="#f440f4" stroke="#cc1ccc"/>
<circle cx="257.0" cy="254.6" r="1.4" fill="#f440f4" stroke="#cc1ccc"/>
<circle cx="244.6" cy="255.4" r="1.4" fill="#f440f4" stroke="#cc1ccc"/>
<circle cx="246.0" cy="252.0" r="1.4" fill="#f440f4" stroke="#cc1ccc"/>
<circle cx="240.0" cy="247.7" r="1.4" fill="#f440f4" stroke="#cc1ccc"/>
<circle cx="243.0" cy="240.0" r="1.4" fill="#f440f4" stroke="#cc1ccc"/>
<circle cx="237.0" cy="244.6" r="1.4" fill="#f440f4" stroke="#cc1ccc"/>
<circle cx="228.5" cy="238.2" r="1.4" fill="#f440f4" stroke="#cc1ccc"/>
<circle cx="220.0" cy="243.8" r="1.4" fill="#f440f4" stroke="#cc1ccc"/>
<circle cx="229.0" cy="238.0" r="1.4" fill="#f440f4" stroke="#cc1ccc"/>
<circle cx="246.0" cy="258.0" r="1.4" fill="#f440f4" stroke="#cc1ccc"/>
<circle cx="245.0" cy="262.0" r="1.4" fill="#f440f4" stroke="#cc1ccc"/>
<circle cx="247.0" cy="249.0" r="1.4" fill="#f440f4" stroke="#cc1ccc"/>
<circle cx="236.2" cy="32.6" r="1.4" fill="#f4d818" stroke="#eccc10"/>
<circle cx="241.5" cy="35.4" r="1.4" fill="#f4d818" stroke="#eccc10"/>
<circle cx="235.4" cy="40.0" r="1.4" fill="#f4d818" stroke="#eccc10"/>
<circle cx="242.3" cy="42.3" r="1.4" fill="#f4d818" stroke="#eccc10"/>
<circle cx="216.0" cy="51.5" r="1.4" fill="#f4d818" stroke="#eccc10"/>
<circle cx="213.0" cy="57.7" r="1.4" fill="#f4d818" stroke="#eccc10"/>
<circle cx="210.0" cy="63.0" r="1.4" fill="#f4d818" stroke="#eccc10"/>
<circle cx="210.8" cy="70.8" r="1.4" fill="#f4d818" stroke="#eccc10"/>
<circle cx="217.0" cy="70.0" r="1.4" fill="#f4d818" stroke="#eccc10"/>
<circle cx="198.5" cy="74.6" r="1.4" fill="#f4d818" stroke="#eccc10"/>
<circle cx="213.0" cy="77.0" r="1.4" fill="#f4d818" stroke="#eccc10"/>
<circle cx="193.0" cy="91.5" r="1.4" fill="#f4d818" stroke="#eccc10"/>
<circle cx="239.2" cy="63.0" r="1.4" fill="#f4d818" stroke="#eccc10"/>
<circle cx="226.0" cy="64.6" r="1.4" fill="#f4d818" stroke="#eccc10"/>
<circle cx="193.3" cy="91.9" r="1.4" fill="#f4d818" stroke="#eccc10"/>
<circle cx="176.9" cy="114.0" r="1.4" fill="#f4d818" stroke="#eccc10"/>
<circle cx="227.7" cy="58.5" r="1.4" fill="#3030d8" stroke="#1a1a98"/>
<circle cx="203.0" cy="75.0" r="1.4" fill="#3030d8" stroke="#1a1a98"/>
<circle cx="215.7" cy="74.6" r="1.4" fill="#3030d8" stroke="#1a1a98"/>
<circle cx="194.0" cy="85.4" r="1.4" fill="#3030d8" stroke="#1a1a98"/>
<circle cx="183.0" cy="90.8" r="1.4" fill="#3030d8" stroke="#1a1a98"/>
<circle cx="187.0" cy="92.3" r="1.4" fill="#3030d8" stroke="#1a1a98"/>
<circle cx="203.4" cy="95.0" r="1.4" fill="#3030d8" stroke="#1a1a98"/>
<circle cx="193.8" cy="105.4" r="1.4" fill="#3030d8" stroke="#1a1a98"/>
<circle cx="182.0" cy="156.0" r="1.4" fill="#3030d8" stroke="#1a1a98"/>
<circle cx="184.0" cy="160.4" r="1.4" fill="#3030d8" stroke="#1a1a98"/>
<circle cx="139.7" cy="157.8" r="1.4" fill="#3030d8" stroke="#1a1a98"/>
<circle cx="125.0" cy="160.0" r="1.4" fill="#3030d8" stroke="#1a1a98"/>
<circle cx="193.7" cy="105.4" r="1.4" fill="#3030d8" stroke="#1a1a98"/>
<circle cx="183.0" cy="90.6" r="1.4" fill="#3030d8" stroke="#1a1a98"/>
<circle cx="187.3" cy="91.6" r="1.4" fill="#3030d8" stroke="#1a1a98"/>
<circle cx="194.0" cy="85.3" r="1.4" fill="#3030d8" stroke="#1a1a98"/>
<circle cx="114.0" cy="177.5" r="1.4" fill="#3030d8" stroke="#1a1a98"/>
<circle cx="108.8" cy="154.5" r="1.4" fill="#3030d8" stroke="#1a1a98"/>
<circle cx="108.0" cy="157.0" r="1.4" fill="#3030d8" stroke="#1a1a98"/>
<circle cx="118.3" cy="155.4" r="1.4" fill="#3030d8" stroke="#1a1a98"/>
<circle cx="125.3" cy="159.7" r="1.4" fill="#3030d8" stroke="#1a1a98"/>
<circle cx="86.3" cy="172.7" r="1.4" fill="#3030d8" stroke="#1a1a98"/>
<circle cx="91.5" cy="175.3" r="1.4" fill="#3030d8" stroke="#1a1a98"/>
<circle cx="99.3" cy="170.0" r="1.4" fill="#3030d8" stroke="#1a1a98"/>
<circle cx="84.6" cy="185.7" r="1.4" fill="#3030d8" stroke="#1a1a98"/>
<circle cx="91.5" cy="184.4" r="1.4" fill="#3030d8" stroke="#1a1a98"/>
<circle cx="67.3" cy="173.5" r="1.4" fill="#3030d8" stroke="#1a1a98"/>
<circle cx="132.3" cy="142.3" r="1.4" fill="#3030d8" stroke="#1a1a98"/>
<circle cx="138.7" cy="143.5" r="1.4" fill="#3030d8" stroke="#1a1a98"/>
<circle cx="146.3" cy="141.5" r="1.4" fill="#3030d8" stroke="#1a1a98"/>
<circle cx="149.2" cy="142.0" r="1.4" fill="#3030d8" stroke="#1a1a98"/>
<circle cx="132.0" cy="146.7" r="1.4" fill="#3030d8" stroke="#1a1a98"/>
<circle cx="139.6" cy="148.0" r="1.4" fill="#3030d8" stroke="#1a1a98"/>
<circle cx="131.0" cy="152.5" r="1.4" fill="#3030d8" stroke="#1a1a98"/>
<circle cx="139.6" cy="158.3" r="1.4" fill="#3030d8" stroke="#1a1a98"/>
<circle cx="182.3" cy="157.0" r="1.4" fill="#3030d8" stroke="#1a1a98"/>
<circle cx="184.8" cy="160.8" r="1.4" fill="#3030d8" stroke="#1a1a98"/>
<circle cx="169.4" cy="170.4" r="1.4" fill="#3030d8" stroke="#1a1a98"/>
<circle cx="180.4" cy="174.6" r="1.4" fill="#3030d8" stroke="#1a1a98"/>
<circle cx="145.4" cy="181.3" r="1.4" fill="#3030d8" stroke="#1a1a98"/>
<circle cx="178.8" cy="97.7" r="1.4" fill="#3030d8" stroke="#1a1a98"/>
<circle cx="184.6" cy="97.7" r="1.4" fill="#3030d8" stroke="#1a1a98"/>
<circle cx="187.5" cy="98.7" r="1.4" fill="#3030d8" stroke="#1a1a98"/>
<circle cx="182.7" cy="91.0" r="1.4" fill="#3030d8" stroke="#1a1a98"/>
<circle cx="186.5" cy="92.3" r="1.4" fill="#3030d8" stroke="#1a1a98"/>
<circle cx="177.9" cy="103.5" r="1.4" fill="#3030d8" stroke="#1a1a98"/>
<circle cx="180.8" cy="106.3" r="1.4" fill="#3030d8" stroke="#1a1a98"/>
<circle cx="178.8" cy="108.3" r="1.4" fill="#3030d8" stroke="#1a1a98"/>
<circle cx="182.7" cy="109.2" r="1.4" fill="#3030d8" stroke="#1a1a98"/>
<circle cx="185.6" cy="107.3" r="1.4" fill="#3030d8" stroke="#1a1a98"/>
<circle cx="176.9" cy="110.2" r="1.4" fill="#3030d8" stroke="#1a1a98"/>
<circle cx="179.8" cy="111.2" r="1.4" fill="#3030d8" stroke="#1a1a98"/>
<circle cx="170.2" cy="104.4" r="1.4" fill="#3030d8" stroke="#1a1a98"/>
<circle cx="194.2" cy="105.4" r="1.4" fill="#3030d8" stroke="#1a1a98"/>
<circle cx="174.0" cy="112.1" r="1.4" fill="#3030d8" stroke="#1a1a98"/>
<circle cx="169.2" cy="111.2" r="1.4" fill="#3030d8" stroke="#1a1a98"/>
<circle cx="188.5" cy="100.6" r="1.4" fill="#3030d8" stroke="#1a1a98"/>
<circle cx="153.8" cy="112.1" r="1.4" fill="#3030d8" stroke="#1a1a98"/>
<circle cx="155.8" cy="114.0" r="1.4" fill="#3030d8" stroke="#1a1a98"/>
<circle cx="151.0" cy="118.8" r="1.4" fill="#3030d8" stroke="#1a1a98"/>
<circle cx="157.7" cy="119.8" r="1.4" fill="#3030d8" stroke="#1a1a98"/>
<circle cx="161.5" cy="116.9" r="1.4" fill="#3030d8" stroke="#1a1a98"/>
<circle cx="165.4" cy="118.8" r="1.4" fill="#3030d8" stroke="#1a1a98"/>
<circle cx="169.2" cy="119.8" r="1.4" fill="#3030d8" stroke="#1a1a98"/>
<circle cx="173.0" cy="119.8" r="1.4" fill="#3030d8" stroke="#1a1a98"/>
<circle cx="176.9" cy="121.7" r="1.4" fill="#3030d8" stroke="#1a1a98"/>
<circle cx="181.7" cy="123.7" r="1.4" fill="#3030d8" stroke="#1a1a98"/>
<circle cx="185.6" cy="125.6" r="1.4" fill="#3030d8" stroke="#1a1a98"/>
<circle cx="144.2" cy="123.7" r="1.4" fill="#3030d8" stroke="#1a1a98"/>
<circle cx="148.0" cy="122.7" r="1.4" fill="#3030d8" stroke="#1a1a98"/>
<circle cx="151.9" cy="124.6" r="1.4" fill="#3030d8" stroke="#1a1a98"/>
<circle cx="155.8" cy="123.7" r="1.4" fill="#3030d8" stroke="#1a1a98"/>
<circle cx="159.6" cy="122.7" r="1.4" fill="#3030d8" stroke="#1a1a98"/>
<circle cx="163.5" cy="124.6" r="1.4" fill="#3030d8" stroke="#1a1a98"/>
<circle cx="167.3" cy="123.7" r="1.4" fill="#3030d8" stroke="#1a1a98"/>
<circle cx="171.2" cy="125.6" r="1.4" fill="#3030d8" stroke="#1a1a98"/>
<circle cx="140.4" cy="126.5" r="1.4" fill="#3030d8" stroke="#1a1a98"/>
<circle cx="146.2" cy="128.5" r="1.4" fill="#3030d8" stroke="#1a1a98"/>
<circle cx="150.0" cy="129.4" r="1.4" fill="#3030d8" stroke="#1a1a98"/>
<circle cx="153.8" cy="128.5" r="1.4" fill="#3030d8" stroke="#1a1a98"/>
<circle cx="157.7" cy="127.5" r="1.4" fill="#3030d8" stroke="#1a1a98"/>
<circle cx="161.5" cy="127.5" r="1.4" fill="#3030d8" stroke="#1a1a98"/>
<circle cx="165.4" cy="127.5" r="1.4" fill="#3030d8" stroke="#1a1a98"/>
<circle cx="137.5" cy="131.3" r="1.4" fill="#3030d8" stroke="#1a1a98"/>
<circle cx="143.3" cy="131.3" r="1.4" fill="#3030d8" stroke="#1a1a98"/>
<circle cx="148.0" cy="132.3" r="1.4" fill="#3030d8" stroke="#1a1a98"/>
<circle cx="151.9" cy="131.3" r="1.4" fill="#3030d8" stroke="#1a1a98"/>
<circle cx="141.3" cy="136.2" r="1.4" fill="#3030d8" stroke="#1a1a98"/>
<circle cx="146.2" cy="136.2" r="1.4" fill="#3030d8" stroke="#1a1a98"/>
<circle cx="151.0" cy="137.1" r="1.4" fill="#3030d8" stroke="#1a1a98"/>
<circle cx="155.8" cy="137.1" r="1.4" fill="#3030d8" stroke="#1a1a98"/>
<circle cx="133.7" cy="136.2" r="1.4" fill="#3030d8" stroke="#1a1a98"/>
<circle cx="138.5" cy="140.0" r="1.4" fill="#3030d8" stroke="#1a1a98"/>
<circle cx="146.2" cy="141.5" r="1.4" fill="#3030d8" stroke="#1a1a98"/>
<circle cx="149.0" cy="141.9" r="1.4" fill="#3030d8" stroke="#1a1a98"/>
<circle cx="132.7" cy="141.9" r="1.4" fill="#3030d8" stroke="#1a1a98"/>
<circle cx="126.9" cy="140.4" r="1.4" fill="#3030d8" stroke="#1a1a98"/>
<circle cx="130.8" cy="146.7" r="1.4" fill="#3030d8" stroke="#1a1a98"/>
<circle cx="124.0" cy="150.6" r="1.4" fill="#3030d8" stroke="#1a1a98"/>
<circle cx="119.2" cy="154.4" r="1.4" fill="#3030d8" stroke="#1a1a98"/>
<circle cx="117.3" cy="156.3" r="1.4" fill="#3030d8" stroke="#1a1a98"/>
<circle cx="121.2" cy="155.4" r="1.4" fill="#3030d8" stroke="#1a1a98"/>
<circle cx="125.0" cy="153.5" r="1.4" fill="#3030d8" stroke="#1a1a98"/>
<circle cx="108.7" cy="154.4" r="1.4" fill="#3030d8" stroke="#1a1a98"/>
<circle cx="107.7" cy="157.3" r="1.4" fill="#3030d8" stroke="#1a1a98"/>
<circle cx="130.8" cy="152.5" r="1.4" fill="#3030d8" stroke="#1a1a98"/>
<circle cx="130.8" cy="157.3" r="1.4" fill="#3030d8" stroke="#1a1a98"/>
<circle cx="139.4" cy="157.3" r="1.4" fill="#3030d8" stroke="#1a1a98"/>
<circle cx="139.4" cy="147.7" r="1.4" fill="#3030d8" stroke="#1a1a98"/>
<circle cx="182.7" cy="156.3" r="1.4" fill="#3030d8" stroke="#1a1a98"/>
<circle cx="184.6" cy="160.2" r="1.4" fill="#3030d8" stroke="#1a1a98"/>
<circle cx="155.8" cy="136.2" r="1.4" fill="#3030d8" stroke="#1a1a98"/>
<circle cx="86.6" cy="172.5" r="1.4" fill="#3030d8" stroke="#1a1a98"/>
<circle cx="85.4" cy="175.4" r="1.4" fill="#3030d8" stroke="#1a1a98"/>
<circle cx="91.8" cy="175.4" r="1.4" fill="#3030d8" stroke="#1a1a98"/>
<circle cx="99.3" cy="170.2" r="1.4" fill="#3030d8" stroke="#1a1a98"/>
<circle cx="84.3" cy="185.8" r="1.4" fill="#3030d8" stroke="#1a1a98"/>
<circle cx="91.2" cy="184.0" r="1.4" fill="#3030d8" stroke="#1a1a98"/>
<circle cx="73.3" cy="195.6" r="1.4" fill="#3030d8" stroke="#1a1a98"/>
<circle cx="205.8" cy="104.3" r="1.4" fill="#f440f4" stroke="#cc1ccc"/>
<circle cx="128.0" cy="144.5" r="1.4" fill="#f440f4" stroke="#cc1ccc"/>
<circle cx="103.7" cy="153.0" r="1.4" fill="#f440f4" stroke="#cc1ccc"/>
<circle cx="101.6" cy="162.5" r="1.4" fill="#f440f4" stroke="#cc1ccc"/>
<circle cx="143.0" cy="145.6" r="1.4" fill="#f440f4" stroke="#cc1ccc"/>
<circle cx="155.6" cy="142.4" r="1.4" fill="#f440f4" stroke="#cc1ccc"/>
<circle cx="162.0" cy="142.4" r="1.4" fill="#f440f4" stroke="#cc1ccc"/>
<circle cx="170.4" cy="141.3" r="1.4" fill="#f440f4" stroke="#cc1ccc"/>
<circle cx="175.7" cy="142.0" r="1.4" fill="#f440f4" stroke="#cc1ccc"/>
<circle cx="154.5" cy="147.7" r="1.4" fill="#f440f4" stroke="#cc1ccc"/>
<circle cx="135.5" cy="166.7" r="1.4" fill="#f440f4" stroke="#cc1ccc"/>
<circle cx="116.4" cy="167.8" r="1.4" fill="#f440f4" stroke="#cc1ccc"/>
<circle cx="107.0" cy="167.8" r="1.4" fill="#f440f4" stroke="#cc1ccc"/>
<circle cx="173.6" cy="119.0" r="1.4" fill="#f440f4" stroke="#cc1ccc"/>
<circle cx="103.6" cy="153.3" r="1.4" fill="#f440f4" stroke="#cc1ccc"/>
<circle cx="102.0" cy="162.3" r="1.4" fill="#f440f4" stroke="#cc1ccc"/>
<circle cx="107.0" cy="168.4" r="1.4" fill="#f440f4" stroke="#cc1ccc"/>
<circle cx="118.3" cy="169.2" r="1.4" fill="#f440f4" stroke="#cc1ccc"/>
<circle cx="121.8" cy="172.7" r="1.4" fill="#f440f4" stroke="#cc1ccc"/>
<circle cx="135.6" cy="167.5" r="1.4" fill="#f440f4" stroke="#cc1ccc"/>
<circle cx="115.7" cy="192.6" r="1.4" fill="#f440f4" stroke="#cc1ccc"/>
<circle cx="101.4" cy="194.3" r="1.4" fill="#f440f4" stroke="#cc1ccc"/>
<circle cx="127.0" cy="195.2" r="1.4" fill="#f440f4" stroke="#cc1ccc"/>
<circle cx="130.4" cy="194.3" r="1.4" fill="#f440f4" stroke="#cc1ccc"/>
<circle cx="132.2" cy="200.0" r="1.4" fill="#f440f4" stroke="#cc1ccc"/>
<circle cx="136.5" cy="187.4" r="1.4" fill="#f440f4" stroke="#cc1ccc"/>
<circle cx="139.0" cy="195.0" r="1.4" fill="#f440f4" stroke="#cc1ccc"/>
<circle cx="142.5" cy="145.8" r="1.4" fill="#f440f4" stroke="#cc1ccc"/>
<circle cx="157.0" cy="142.3" r="1.4" fill="#f440f4" stroke="#cc1ccc"/>
<circle cx="162.7" cy="142.3" r="1.4" fill="#f440f4" stroke="#cc1ccc"/>
<circle cx="170.4" cy="141.0" r="1.4" fill="#f440f4" stroke="#cc1ccc"/>
<circle cx="176.0" cy="142.3" r="1.4" fill="#f440f4" stroke="#cc1ccc"/>
<circle cx="155.0" cy="147.7" r="1.4" fill="#f440f4" stroke="#cc1ccc"/>
<circle cx="135.8" cy="167.5" r="1.4" fill="#f440f4" stroke="#cc1ccc"/>
<circle cx="212.7" cy="166.5" r="1.4" fill="#f440f4" stroke="#cc1ccc"/>
<circle cx="183.8" cy="178.5" r="1.4" fill="#f440f4" stroke="#cc1ccc"/>
<circle cx="184.8" cy="180.8" r="1.4" fill="#f440f4" stroke="#cc1ccc"/>
<circle cx="188.3" cy="179.4" r="1.4" fill="#f440f4" stroke="#cc1ccc"/>
<circle cx="196.3" cy="179.0" r="1.4" fill="#f440f4" stroke="#cc1ccc"/>
<circle cx="203.7" cy="180.8" r="1.4" fill="#f440f4" stroke="#cc1ccc"/>
<circle cx="207.9" cy="178.5" r="1.4" fill="#f440f4" stroke="#cc1ccc"/>
<circle cx="209.8" cy="177.1" r="1.4" fill="#f440f4" stroke="#cc1ccc"/>
<circle cx="212.7" cy="178.5" r="1.4" fill="#f440f4" stroke="#cc1ccc"/>
<circle cx="214.0" cy="182.7" r="1.4" fill="#f440f4" stroke="#cc1ccc"/>
<circle cx="213.7" cy="186.2" r="1.4" fill="#f440f4" stroke="#cc1ccc"/>
<circle cx="221.3" cy="182.3" r="1.4" fill="#f440f4" stroke="#cc1ccc"/>
<circle cx="222.3" cy="177.0" r="1.4" fill="#f440f4" stroke="#cc1ccc"/>
<circle cx="229.0" cy="177.5" r="1.4" fill="#f440f4" stroke="#cc1ccc"/>
<circle cx="136.3" cy="187.7" r="1.4" fill="#f440f4" stroke="#cc1ccc"/>
<circle cx="131.0" cy="194.2" r="1.4" fill="#f440f4" stroke="#cc1ccc"/>
<circle cx="139.2" cy="195.2" r="1.4" fill="#f440f4" stroke="#cc1ccc"/>
<circle cx="132.3" cy="200.0" r="1.4" fill="#f440f4" stroke="#cc1ccc"/>
<circle cx="141.0" cy="201.5" r="1.4" fill="#f440f4" stroke="#cc1ccc"/>
<circle cx="146.3" cy="198.7" r="1.4" fill="#f440f4" stroke="#cc1ccc"/>
<circle cx="148.3" cy="198.0" r="1.4" fill="#f440f4" stroke="#cc1ccc"/>
<circle cx="158.8" cy="199.2" r="1.4" fill="#f440f4" stroke="#cc1ccc"/>
<circle cx="157.9" cy="204.4" r="1.4" fill="#f440f4" stroke="#cc1ccc"/>
<circle cx="203.7" cy="216.5" r="1.4" fill="#f440f4" stroke="#cc1ccc"/>
<circle cx="292.0" cy="188.5" r="1.4" fill="#f440f4" stroke="#cc1ccc"/>
<circle cx="173.0" cy="118.8" r="1.4" fill="#f440f4" stroke="#cc1ccc"/>
</g>
<rect x="49.6" y="22.8" width="293.2" height="254.9" fill="none" stroke="#333" stroke-width="1.2"/>
<line x1="43.6" y1="50.0" x2="49.6" y2="50.0" stroke="#333" stroke-width="1.1"/>
<text transform="translate(39.3,50.0) rotate(-90)" text-anchor="middle" font-size="10" fill="#222">0.03</text>
<line x1="43.6" y1="92.4" x2="49.6" y2="92.4" stroke="#333" stroke-width="1.1"/>
<text transform="translate(39.3,92.4) rotate(-90)" text-anchor="middle" font-size="10" fill="#222">0.02</text>
<line x1="43.6" y1="134.8" x2="49.6" y2="134.8" stroke="#333" stroke-width="1.1"/>
<text transform="translate(39.3,134.8) rotate(-90)" text-anchor="middle" font-size="10" fill="#222">0.01</text>
<line x1="43.6" y1="177.2" x2="49.6" y2="177.2" stroke="#333" stroke-width="1.1"/>
<text transform="translate(39.3,177.2) rotate(-90)" text-anchor="middle" font-size="10" fill="#222">0.00</text>
<line x1="43.6" y1="219.6" x2="49.6" y2="219.6" stroke="#333" stroke-width="1.1"/>
<text transform="translate(39.3,219.6) rotate(-90)" text-anchor="middle" font-size="10" fill="#222">−0.01</text>
<line x1="43.6" y1="262.0" x2="49.6" y2="262.0" stroke="#333" stroke-width="1.1"/>
<text transform="translate(39.3,262.0) rotate(-90)" text-anchor="middle" font-size="10" fill="#222">−0.02</text>
<line x1="84.2" y1="277.7" x2="84.2" y2="284" stroke="#333" stroke-width="1.1"/>
<text x="83.0" y="295.8" text-anchor="middle" font-size="10" fill="#222">−0.005</text>
<line x1="125.3" y1="277.7" x2="125.3" y2="284" stroke="#333" stroke-width="1.1"/>
<text x="125.3" y="295.8" text-anchor="middle" font-size="10" fill="#222">0.000</text>
<line x1="166.4" y1="277.7" x2="166.4" y2="284" stroke="#333" stroke-width="1.1"/>
<text x="166.4" y="295.8" text-anchor="middle" font-size="10" fill="#222">0.005</text>
<line x1="207.4" y1="277.7" x2="207.4" y2="284" stroke="#333" stroke-width="1.1"/>
<text x="207.4" y="295.8" text-anchor="middle" font-size="10" fill="#222">0.010</text>
<line x1="248.5" y1="277.7" x2="248.5" y2="284" stroke="#333" stroke-width="1.1"/>
<text x="248.5" y="295.8" text-anchor="middle" font-size="10" fill="#222">0.015</text>
<line x1="289.6" y1="277.7" x2="289.6" y2="284" stroke="#333" stroke-width="1.1"/>
<text x="289.6" y="295.8" text-anchor="middle" font-size="10" fill="#222">0.020</text>
<line x1="330.6" y1="277.7" x2="330.6" y2="284" stroke="#333" stroke-width="1.1"/>
<text x="330.6" y="295.8" text-anchor="middle" font-size="10" fill="#222">0.025</text>
<text x="196.2" y="313.2" text-anchor="middle" font-size="11.8" fill="#222">PC1</text>
<text transform="translate(14.4,150.2) rotate(-90)" text-anchor="middle" font-size="11.8" fill="#222">PC3</text>
<text x="1.4" y="350.0" font-size="15" font-weight="bold" fill="#111">B</text>
<line x1="50.1" y1="351.8" x2="50.1" y2="608.0" stroke="#444" stroke-width="1.1"/>
<line x1="44.1" y1="608.0" x2="50.1" y2="608.0" stroke="#444" stroke-width="1.1"/>
<text transform="translate(37.3,608.0) rotate(-90)" text-anchor="middle" font-size="10" fill="#222">0.0</text>
<line x1="44.1" y1="556.8" x2="50.1" y2="556.8" stroke="#444" stroke-width="1.1"/>
<text transform="translate(37.3,556.8) rotate(-90)" text-anchor="middle" font-size="10" fill="#222">0.2</text>
<line x1="44.1" y1="505.5" x2="50.1" y2="505.5" stroke="#444" stroke-width="1.1"/>
<text transform="translate(37.3,505.5) rotate(-90)" text-anchor="middle" font-size="10" fill="#222">0.4</text>
<line x1="44.1" y1="454.3" x2="50.1" y2="454.3" stroke="#444" stroke-width="1.1"/>
<text transform="translate(37.3,454.3) rotate(-90)" text-anchor="middle" font-size="10" fill="#222">0.6</text>
<line x1="44.1" y1="403.0" x2="50.1" y2="403.0" stroke="#444" stroke-width="1.1"/>
<text transform="translate(37.3,403.0) rotate(-90)" text-anchor="middle" font-size="10" fill="#222">0.8</text>
<line x1="44.1" y1="351.8" x2="50.1" y2="351.8" stroke="#444" stroke-width="1.1"/>
<text transform="translate(37.3,351.8) rotate(-90)" text-anchor="middle" font-size="10" fill="#222">1.0</text>
<text transform="translate(15.2,479.9) rotate(-90)" text-anchor="middle" font-size="12.6" fill="#222">Proportion</text>
<defs><filter id="bl" x="-0.01" y="-0.01" width="1.02" height="1.02"><feGaussianBlur stdDeviation="0.6"/></filter></defs><g stroke="#000" stroke-opacity="0.75" stroke-width="1" filter="url(#bl)">
<rect x="67.30" y="603.00" width="3.22" height="5.00" fill="#20f6f6"/>
<rect x="67.30" y="355.30" width="3.22" height="247.70" fill="#f8d818"/>
<rect x="67.30" y="351.80" width="3.22" height="3.50" fill="#901c1c"/>
<rect x="70.52" y="596.00" width="3.22" height="12.00" fill="#20f020"/>
<rect x="70.52" y="555.60" width="3.22" height="40.40" fill="#20f6f6"/>
<rect x="70.52" y="354.40" width="3.22" height="201.20" fill="#f8d818"/>
<rect x="70.52" y="351.80" width="3.22" height="2.60" fill="#901c1c"/>
<rect x="73.75" y="602.90" width="3.22" height="5.10" fill="#20f020"/>
<rect x="73.75" y="552.40" width="3.22" height="50.50" fill="#20f6f6"/>
<rect x="73.75" y="352.30" width="3.22" height="200.10" fill="#f8d818"/>
<rect x="73.75" y="351.80" width="3.22" height="0.50" fill="#901c1c"/>
<rect x="76.97" y="602.90" width="3.22" height="5.10" fill="#20f020"/>
<rect x="76.97" y="543.70" width="3.22" height="59.20" fill="#20f6f6"/>
<rect x="76.97" y="359.80" width="3.22" height="183.90" fill="#f8d818"/>
<rect x="76.97" y="351.80" width="3.22" height="8.00" fill="#901c1c"/>
<rect x="80.19" y="534.20" width="3.22" height="73.80" fill="#20f6f6"/>
<rect x="80.19" y="355.80" width="3.22" height="178.40" fill="#f8d818"/>
<rect x="80.19" y="351.80" width="3.22" height="4.00" fill="#901c1c"/>
<rect x="83.41" y="598.30" width="3.22" height="9.70" fill="#20f020"/>
<rect x="83.41" y="544.50" width="3.22" height="53.80" fill="#20f6f6"/>
<rect x="83.41" y="368.50" width="3.22" height="176.00" fill="#f8d818"/>
<rect x="83.41" y="351.80" width="3.22" height="16.70" fill="#901c1c"/>
<rect x="86.64" y="595.10" width="3.22" height="12.90" fill="#20f020"/>
<rect x="86.64" y="527.80" width="3.22" height="67.30" fill="#20f6f6"/>
<rect x="86.64" y="357.60" width="3.22" height="170.20" fill="#f8d818"/>
<rect x="86.64" y="351.80" width="3.22" height="5.80" fill="#901c1c"/>
<rect x="89.86" y="597.10" width="3.22" height="10.90" fill="#20f020"/>
<rect x="89.86" y="527.00" width="3.22" height="70.10" fill="#20f6f6"/>
<rect x="89.86" y="359.10" width="3.22" height="167.90" fill="#f8d818"/>
<rect x="89.86" y="351.80" width="3.22" height="7.30" fill="#901c1c"/>
<rect x="93.08" y="597.70" width="3.22" height="10.30" fill="#20f020"/>
<rect x="93.08" y="525.50" width="3.22" height="72.20" fill="#20f6f6"/>
<rect x="93.08" y="357.60" width="3.22" height="167.90" fill="#f8d818"/>
<rect x="93.08" y="351.80" width="3.22" height="5.80" fill="#901c1c"/>
<rect x="96.31" y="604.40" width="3.22" height="3.60" fill="#20f020"/>
<rect x="96.31" y="525.50" width="3.22" height="78.90" fill="#20f6f6"/>
<rect x="96.31" y="358.70" width="3.22" height="166.80" fill="#f8d818"/>
<rect x="96.31" y="351.80" width="3.22" height="6.90" fill="#901c1c"/>
<rect x="99.53" y="594.60" width="3.22" height="13.40" fill="#20f020"/>
<rect x="99.53" y="517.50" width="3.22" height="77.10" fill="#20f6f6"/>
<rect x="99.53" y="352.40" width="3.22" height="165.10" fill="#f8d818"/>
<rect x="99.53" y="351.80" width="3.22" height="0.60" fill="#901c1c"/>
<rect x="102.75" y="602.00" width="3.22" height="6.00" fill="#20f020"/>
<rect x="102.75" y="515.20" width="3.22" height="86.80" fill="#20f6f6"/>
<rect x="102.75" y="352.40" width="3.22" height="162.80" fill="#f8d818"/>
<rect x="102.75" y="351.80" width="3.22" height="0.60" fill="#901c1c"/>
<rect x="105.97" y="604.60" width="3.22" height="3.40" fill="#20f020"/>
<rect x="105.97" y="523.90" width="3.22" height="80.70" fill="#20f6f6"/>
<rect x="105.97" y="361.60" width="3.22" height="162.30" fill="#f8d818"/>
<rect x="105.97" y="351.80" width="3.22" height="9.80" fill="#901c1c"/>
<rect x="109.20" y="593.00" width="3.22" height="15.00" fill="#20f020"/>
<rect x="109.20" y="521.50" width="3.22" height="71.50" fill="#20f6f6"/>
<rect x="109.20" y="361.00" width="3.22" height="160.50" fill="#f8d818"/>
<rect x="109.20" y="351.80" width="3.22" height="9.20" fill="#901c1c"/>
<rect x="112.42" y="597.70" width="3.22" height="10.30" fill="#20f020"/>
<rect x="112.42" y="516.00" width="3.22" height="81.70" fill="#20f6f6"/>
<rect x="112.42" y="357.00" width="3.22" height="159.00" fill="#f8d818"/>
<rect x="112.42" y="351.80" width="3.22" height="5.20" fill="#901c1c"/>
<rect x="115.64" y="585.60" width="3.22" height="22.40" fill="#20f020"/>
<rect x="115.64" y="519.10" width="3.22" height="66.50" fill="#20f6f6"/>
<rect x="115.64" y="361.00" width="3.22" height="158.10" fill="#f8d818"/>
<rect x="115.64" y="351.80" width="3.22" height="9.20" fill="#901c1c"/>
<rect x="118.87" y="600.60" width="3.22" height="7.40" fill="#20f020"/>
<rect x="118.87" y="515.20" width="3.22" height="85.40" fill="#20f6f6"/>
<rect x="118.87" y="361.00" width="3.22" height="154.20" fill="#f8d818"/>
<rect x="118.87" y="351.80" width="3.22" height="9.20" fill="#901c1c"/>
<rect x="122.09" y="597.70" width="3.22" height="10.30" fill="#20f020"/>
<rect x="122.09" y="512.00" width="3.22" height="85.70" fill="#20f6f6"/>
<rect x="122.09" y="358.70" width="3.22" height="153.30" fill="#f8d818"/>
<rect x="122.09" y="351.80" width="3.22" height="6.90" fill="#901c1c"/>
<rect x="125.31" y="600.60" width="3.22" height="7.40" fill="#20f020"/>
<rect x="125.31" y="516.50" width="3.22" height="84.10" fill="#20f6f6"/>
<rect x="125.31" y="365.60" width="3.22" height="150.90" fill="#f8d818"/>
<rect x="125.31" y="351.80" width="3.22" height="13.80" fill="#901c1c"/>
<rect x="128.53" y="591.90" width="3.22" height="16.10" fill="#20f020"/>
<rect x="128.53" y="508.20" width="3.22" height="83.70" fill="#20f6f6"/>
<rect x="128.53" y="357.60" width="3.22" height="150.60" fill="#f8d818"/>
<rect x="128.53" y="351.80" width="3.22" height="5.80" fill="#901c1c"/>
<rect x="131.76" y="590.80" width="3.22" height="17.20" fill="#20f020"/>
<rect x="131.76" y="501.30" width="3.22" height="89.50" fill="#20f6f6"/>
<rect x="131.76" y="352.40" width="3.22" height="148.90" fill="#f8d818"/>
<rect x="131.76" y="351.80" width="3.22" height="0.60" fill="#901c1c"/>
<rect x="134.98" y="587.30" width="3.22" height="20.70" fill="#20f020"/>
<rect x="134.98" y="501.30" width="3.22" height="86.00" fill="#20f6f6"/>
<rect x="134.98" y="352.40" width="3.22" height="148.90" fill="#f8d818"/>
<rect x="134.98" y="351.80" width="3.22" height="0.60" fill="#901c1c"/>
<rect x="138.20" y="587.30" width="3.22" height="20.70" fill="#20f020"/>
<rect x="138.20" y="507.60" width="3.22" height="79.70" fill="#20f6f6"/>
<rect x="138.20" y="361.60" width="3.22" height="146.00" fill="#f8d818"/>
<rect x="138.20" y="351.80" width="3.22" height="9.80" fill="#901c1c"/>
<rect x="141.43" y="594.20" width="3.22" height="13.80" fill="#20f020"/>
<rect x="141.43" y="503.80" width="3.22" height="90.40" fill="#20f6f6"/>
<rect x="141.43" y="359.80" width="3.22" height="144.00" fill="#f8d818"/>
<rect x="141.43" y="351.80" width="3.22" height="8.00" fill="#901c1c"/>
<rect x="144.65" y="589.60" width="3.22" height="18.40" fill="#20f020"/>
<rect x="144.65" y="499.40" width="3.22" height="90.20" fill="#20f6f6"/>
<rect x="144.65" y="355.80" width="3.22" height="143.60" fill="#f8d818"/>
<rect x="144.65" y="351.80" width="3.22" height="4.00" fill="#901c1c"/>
<rect x="147.87" y="593.60" width="3.22" height="14.40" fill="#20f020"/>
<rect x="147.87" y="494.30" width="3.22" height="99.30" fill="#20f6f6"/>
<rect x="147.87" y="352.40" width="3.22" height="141.90" fill="#f8d818"/>
<rect x="147.87" y="351.80" width="3.22" height="0.60" fill="#901c1c"/>
<rect x="151.09" y="586.10" width="3.22" height="21.90" fill="#20f020"/>
<rect x="151.09" y="493.00" width="3.22" height="93.10" fill="#20f6f6"/>
<rect x="151.09" y="353.50" width="3.22" height="139.50" fill="#f8d818"/>
<rect x="151.09" y="351.80" width="3.22" height="1.70" fill="#901c1c"/>
<rect x="154.32" y="595.40" width="3.22" height="12.60" fill="#20f020"/>
<rect x="154.32" y="494.30" width="3.22" height="101.10" fill="#20f6f6"/>
<rect x="154.32" y="354.70" width="3.22" height="139.60" fill="#f8d818"/>
<rect x="154.32" y="351.80" width="3.22" height="2.90" fill="#901c1c"/>
<rect x="157.54" y="590.80" width="3.22" height="17.20" fill="#20f020"/>
<rect x="157.54" y="494.90" width="3.22" height="95.90" fill="#20f6f6"/>
<rect x="157.54" y="358.10" width="3.22" height="136.80" fill="#f8d818"/>
<rect x="157.54" y="351.80" width="3.22" height="6.30" fill="#901c1c"/>
<rect x="160.76" y="588.50" width="3.22" height="19.50" fill="#20f020"/>
<rect x="160.76" y="491.80" width="3.22" height="96.70" fill="#20f6f6"/>
<rect x="160.76" y="353.50" width="3.22" height="138.30" fill="#f8d818"/>
<rect x="160.76" y="351.80" width="3.22" height="1.70" fill="#901c1c"/>
<rect x="163.99" y="592.50" width="3.22" height="15.50" fill="#20f020"/>
<rect x="163.99" y="493.00" width="3.22" height="99.50" fill="#20f6f6"/>
<rect x="163.99" y="356.40" width="3.22" height="136.60" fill="#f8d818"/>
<rect x="163.99" y="351.80" width="3.22" height="4.60" fill="#901c1c"/>
<rect x="167.21" y="600.60" width="3.22" height="7.40" fill="#20f020"/>
<rect x="167.21" y="494.30" width="3.22" height="106.30" fill="#20f6f6"/>
<rect x="167.21" y="361.00" width="3.22" height="133.30" fill="#f8d818"/>
<rect x="167.21" y="351.80" width="3.22" height="9.20" fill="#901c1c"/>
<rect x="170.43" y="594.80" width="3.22" height="13.20" fill="#20f020"/>
<rect x="170.43" y="492.40" width="3.22" height="102.40" fill="#20f6f6"/>
<rect x="170.43" y="359.30" width="3.22" height="133.10" fill="#f8d818"/>
<rect x="170.43" y="351.80" width="3.22" height="7.50" fill="#901c1c"/>
<rect x="173.65" y="580.40" width="3.22" height="27.60" fill="#20f020"/>
<rect x="173.65" y="485.40" width="3.22" height="95.00" fill="#20f6f6"/>
<rect x="173.65" y="353.50" width="3.22" height="131.90" fill="#f8d818"/>
<rect x="173.65" y="351.80" width="3.22" height="1.70" fill="#901c1c"/>
<rect x="176.88" y="602.90" width="3.22" height="5.10" fill="#20f020"/>
<rect x="176.88" y="481.60" width="3.22" height="121.30" fill="#20f6f6"/>
<rect x="176.88" y="352.40" width="3.22" height="129.20" fill="#f8d818"/>
<rect x="176.88" y="351.80" width="3.22" height="0.60" fill="#901c1c"/>
<rect x="180.10" y="593.60" width="3.22" height="14.40" fill="#20f020"/>
<rect x="180.10" y="481.00" width="3.22" height="112.60" fill="#20f6f6"/>
<rect x="180.10" y="352.40" width="3.22" height="128.60" fill="#f8d818"/>
<rect x="180.10" y="351.80" width="3.22" height="0.60" fill="#901c1c"/>
<rect x="183.32" y="606.90" width="3.22" height="1.10" fill="#20f020"/>
<rect x="183.32" y="497.70" width="3.22" height="109.20" fill="#20f6f6"/>
<rect x="183.32" y="369.70" width="3.22" height="128.00" fill="#f8d818"/>
<rect x="183.32" y="351.80" width="3.22" height="17.90" fill="#901c1c"/>
<rect x="186.55" y="600.00" width="3.22" height="8.00" fill="#20f020"/>
<rect x="186.55" y="479.90" width="3.22" height="120.10" fill="#20f6f6"/>
<rect x="186.55" y="353.00" width="3.22" height="126.90" fill="#f8d818"/>
<rect x="186.55" y="351.80" width="3.22" height="1.20" fill="#901c1c"/>
<rect x="189.77" y="600.60" width="3.22" height="7.40" fill="#20f020"/>
<rect x="189.77" y="479.90" width="3.22" height="120.70" fill="#20f6f6"/>
<rect x="189.77" y="353.00" width="3.22" height="126.90" fill="#f8d818"/>
<rect x="189.77" y="351.80" width="3.22" height="1.20" fill="#901c1c"/>
<rect x="192.99" y="587.30" width="3.22" height="20.70" fill="#20f020"/>
<rect x="192.99" y="497.00" width="3.22" height="90.30" fill="#20f6f6"/>
<rect x="192.99" y="370.30" width="3.22" height="126.70" fill="#f8d818"/>
<rect x="192.99" y="351.80" width="3.22" height="18.50" fill="#901c1c"/>
<rect x="196.21" y="591.90" width="3.22" height="16.10" fill="#20f020"/>
<rect x="196.21" y="493.20" width="3.22" height="98.70" fill="#20f6f6"/>
<rect x="196.21" y="368.50" width="3.22" height="124.70" fill="#f8d818"/>
<rect x="196.21" y="351.80" width="3.22" height="16.70" fill="#901c1c"/>
<rect x="199.44" y="583.30" width="3.22" height="24.70" fill="#20f020"/>
<rect x="199.44" y="486.30" width="3.22" height="97.00" fill="#20f6f6"/>
<rect x="199.44" y="362.20" width="3.22" height="124.10" fill="#f8d818"/>
<rect x="199.44" y="351.80" width="3.22" height="10.40" fill="#901c1c"/>
<rect x="202.66" y="596.50" width="3.22" height="11.50" fill="#20f020"/>
<rect x="202.66" y="495.10" width="3.22" height="101.40" fill="#20f6f6"/>
<rect x="202.66" y="371.40" width="3.22" height="123.70" fill="#f8d818"/>
<rect x="202.66" y="351.80" width="3.22" height="19.60" fill="#901c1c"/>
<rect x="205.88" y="590.20" width="3.22" height="17.80" fill="#20f020"/>
<rect x="205.88" y="481.80" width="3.22" height="108.40" fill="#20f6f6"/>
<rect x="205.88" y="358.70" width="3.22" height="123.10" fill="#f8d818"/>
<rect x="205.88" y="351.80" width="3.22" height="6.90" fill="#901c1c"/>
<rect x="209.11" y="600.60" width="3.22" height="7.40" fill="#20f020"/>
<rect x="209.11" y="475.50" width="3.22" height="125.10" fill="#20f6f6"/>
<rect x="209.11" y="352.40" width="3.22" height="123.10" fill="#f8d818"/>
<rect x="209.11" y="351.80" width="3.22" height="0.60" fill="#901c1c"/>
<rect x="212.33" y="599.40" width="3.22" height="8.60" fill="#20f020"/>
<rect x="212.33" y="475.50" width="3.22" height="123.90" fill="#20f6f6"/>
<rect x="212.33" y="352.40" width="3.22" height="123.10" fill="#f8d818"/>
<rect x="212.33" y="351.80" width="3.22" height="0.60" fill="#901c1c"/>
<rect x="215.55" y="595.40" width="3.22" height="12.60" fill="#20f020"/>
<rect x="215.55" y="487.50" width="3.22" height="107.90" fill="#20f6f6"/>
<rect x="215.55" y="363.90" width="3.22" height="123.60" fill="#f8d818"/>
<rect x="215.55" y="351.80" width="3.22" height="12.10" fill="#901c1c"/>
<rect x="218.77" y="581.50" width="3.22" height="26.50" fill="#20f020"/>
<rect x="218.77" y="480.60" width="3.22" height="100.90" fill="#20f6f6"/>
<rect x="218.77" y="358.10" width="3.22" height="122.50" fill="#f8d818"/>
<rect x="218.77" y="351.80" width="3.22" height="6.30" fill="#901c1c"/>
<rect x="222.00" y="596.50" width="3.22" height="11.50" fill="#20f020"/>
<rect x="222.00" y="490.70" width="3.22" height="105.80" fill="#20f6f6"/>
<rect x="222.00" y="369.10" width="3.22" height="121.60" fill="#f8d818"/>
<rect x="222.00" y="351.80" width="3.22" height="17.30" fill="#901c1c"/>
<rect x="225.22" y="587.30" width="3.22" height="20.70" fill="#20f020"/>
<rect x="225.22" y="486.90" width="3.22" height="100.40" fill="#20f6f6"/>
<rect x="225.22" y="364.50" width="3.22" height="122.40" fill="#f8d818"/>
<rect x="225.22" y="351.80" width="3.22" height="12.70" fill="#901c1c"/>
<rect x="228.44" y="587.30" width="3.22" height="20.70" fill="#20f020"/>
<rect x="228.44" y="486.30" width="3.22" height="101.00" fill="#20f6f6"/>
<rect x="228.44" y="364.50" width="3.22" height="121.80" fill="#f8d818"/>
<rect x="228.44" y="351.80" width="3.22" height="12.70" fill="#901c1c"/>
<rect x="231.67" y="588.50" width="3.22" height="19.50" fill="#20f020"/>
<rect x="231.67" y="472.30" width="3.22" height="116.20" fill="#20f6f6"/>
<rect x="231.67" y="352.40" width="3.22" height="119.90" fill="#f8d818"/>
<rect x="231.67" y="351.80" width="3.22" height="0.60" fill="#901c1c"/>
<rect x="234.89" y="600.00" width="3.22" height="8.00" fill="#20f020"/>
<rect x="234.89" y="473.00" width="3.22" height="127.00" fill="#20f6f6"/>
<rect x="234.89" y="353.50" width="3.22" height="119.50" fill="#f8d818"/>
<rect x="234.89" y="351.80" width="3.22" height="1.70" fill="#901c1c"/>
<rect x="238.11" y="599.40" width="3.22" height="8.60" fill="#20f020"/>
<rect x="238.11" y="490.10" width="3.22" height="109.30" fill="#20f6f6"/>
<rect x="238.11" y="371.40" width="3.22" height="118.70" fill="#f8d818"/>
<rect x="238.11" y="351.80" width="3.22" height="19.60" fill="#901c1c"/>
<rect x="241.33" y="599.40" width="3.22" height="8.60" fill="#20f020"/>
<rect x="241.33" y="476.30" width="3.22" height="123.10" fill="#20f6f6"/>
<rect x="241.33" y="357.00" width="3.22" height="119.30" fill="#f8d818"/>
<rect x="241.33" y="351.80" width="3.22" height="5.20" fill="#901c1c"/>
<rect x="244.56" y="593.10" width="3.22" height="14.90" fill="#20f020"/>
<rect x="244.56" y="485.10" width="3.22" height="108.00" fill="#20f6f6"/>
<rect x="244.56" y="366.80" width="3.22" height="118.30" fill="#f8d818"/>
<rect x="244.56" y="351.80" width="3.22" height="15.00" fill="#901c1c"/>
<rect x="247.78" y="599.40" width="3.22" height="8.60" fill="#20f020"/>
<rect x="247.78" y="476.90" width="3.22" height="122.50" fill="#20f6f6"/>
<rect x="247.78" y="359.90" width="3.22" height="117.00" fill="#f8d818"/>
<rect x="247.78" y="351.80" width="3.22" height="8.10" fill="#901c1c"/>
<rect x="251.00" y="591.30" width="3.22" height="16.70" fill="#20f020"/>
<rect x="251.00" y="475.60" width="3.22" height="115.70" fill="#20f6f6"/>
<rect x="251.00" y="358.70" width="3.22" height="116.90" fill="#f8d818"/>
<rect x="251.00" y="351.80" width="3.22" height="6.90" fill="#901c1c"/>
<rect x="254.23" y="594.80" width="3.22" height="13.20" fill="#20f020"/>
<rect x="254.23" y="470.60" width="3.22" height="124.20" fill="#20f6f6"/>
<rect x="254.23" y="354.70" width="3.22" height="115.90" fill="#f8d818"/>
<rect x="254.23" y="351.80" width="3.22" height="2.90" fill="#901c1c"/>
<rect x="257.45" y="600.60" width="3.22" height="7.40" fill="#20f020"/>
<rect x="257.45" y="473.10" width="3.22" height="127.50" fill="#20f6f6"/>
<rect x="257.45" y="358.70" width="3.22" height="114.40" fill="#f8d818"/>
<rect x="257.45" y="351.80" width="3.22" height="6.90" fill="#901c1c"/>
<rect x="260.67" y="596.50" width="3.22" height="11.50" fill="#20f020"/>
<rect x="260.67" y="468.00" width="3.22" height="128.50" fill="#20f6f6"/>
<rect x="260.67" y="354.70" width="3.22" height="113.30" fill="#f8d818"/>
<rect x="260.67" y="351.80" width="3.22" height="2.90" fill="#901c1c"/>
<rect x="263.89" y="588.50" width="3.22" height="19.50" fill="#20f020"/>
<rect x="263.89" y="466.10" width="3.22" height="122.40" fill="#20f6f6"/>
<rect x="263.89" y="352.40" width="3.22" height="113.70" fill="#f8d818"/>
<rect x="263.89" y="351.80" width="3.22" height="0.60" fill="#901c1c"/>
<rect x="267.12" y="592.50" width="3.22" height="15.50" fill="#20f020"/>
<rect x="267.12" y="466.10" width="3.22" height="126.40" fill="#20f6f6"/>
<rect x="267.12" y="352.40" width="3.22" height="113.70" fill="#f8d818"/>
<rect x="267.12" y="351.80" width="3.22" height="0.60" fill="#901c1c"/>
<rect x="270.34" y="599.40" width="3.22" height="8.60" fill="#20f020"/>
<rect x="270.34" y="478.80" width="3.22" height="120.60" fill="#20f6f6"/>
<rect x="270.34" y="365.60" width="3.22" height="113.20" fill="#f8d818"/>
<rect x="270.34" y="351.80" width="3.22" height="13.80" fill="#901c1c"/>
<rect x="273.56" y="597.70" width="3.22" height="10.30" fill="#20f020"/>
<rect x="273.56" y="465.50" width="3.22" height="132.20" fill="#20f6f6"/>
<rect x="273.56" y="352.40" width="3.22" height="113.10" fill="#f8d818"/>
<rect x="273.56" y="351.80" width="3.22" height="0.60" fill="#901c1c"/>
<rect x="276.79" y="589.00" width="3.22" height="19.00" fill="#20f020"/>
<rect x="276.79" y="473.10" width="3.22" height="115.90" fill="#20f6f6"/>
<rect x="276.79" y="360.50" width="3.22" height="112.60" fill="#f8d818"/>
<rect x="276.79" y="351.80" width="3.22" height="8.70" fill="#901c1c"/>
<rect x="280.01" y="600.60" width="3.22" height="7.40" fill="#20f020"/>
<rect x="280.01" y="464.90" width="3.22" height="135.70" fill="#20f6f6"/>
<rect x="280.01" y="352.40" width="3.22" height="112.50" fill="#f8d818"/>
<rect x="280.01" y="351.80" width="3.22" height="0.60" fill="#901c1c"/>
<rect x="283.23" y="603.40" width="3.22" height="4.60" fill="#20f020"/>
<rect x="283.23" y="464.90" width="3.22" height="138.50" fill="#20f6f6"/>
<rect x="283.23" y="352.40" width="3.22" height="112.50" fill="#f8d818"/>
<rect x="283.23" y="351.80" width="3.22" height="0.60" fill="#901c1c"/>
<rect x="286.45" y="591.90" width="3.22" height="16.10" fill="#20f020"/>
<rect x="286.45" y="469.30" width="3.22" height="122.60" fill="#20f6f6"/>
<rect x="286.45" y="357.60" width="3.22" height="111.70" fill="#f8d818"/>
<rect x="286.45" y="351.80" width="3.22" height="5.80" fill="#901c1c"/>
<rect x="289.68" y="601.10" width="3.22" height="6.90" fill="#20f020"/>
<rect x="289.68" y="463.60" width="3.22" height="137.50" fill="#20f6f6"/>
<rect x="289.68" y="352.40" width="3.22" height="111.20" fill="#f8d818"/>
<rect x="289.68" y="351.80" width="3.22" height="0.60" fill="#901c1c"/>
<rect x="292.90" y="581.50" width="3.22" height="26.50" fill="#20f020"/>
<rect x="292.90" y="463.60" width="3.22" height="117.90" fill="#20f6f6"/>
<rect x="292.90" y="353.50" width="3.22" height="110.10" fill="#f8d818"/>
<rect x="292.90" y="351.80" width="3.22" height="1.70" fill="#901c1c"/>
<rect x="296.12" y="600.60" width="3.22" height="7.40" fill="#20f020"/>
<rect x="296.12" y="473.70" width="3.22" height="126.90" fill="#20f6f6"/>
<rect x="296.12" y="363.30" width="3.22" height="110.40" fill="#f8d818"/>
<rect x="296.12" y="351.80" width="3.22" height="11.50" fill="#901c1c"/>
<rect x="299.35" y="591.70" width="3.22" height="16.30" fill="#20f020"/>
<rect x="299.35" y="474.00" width="3.22" height="117.70" fill="#20f6f6"/>
<rect x="299.35" y="365.10" width="3.22" height="108.90" fill="#f8d818"/>
<rect x="299.35" y="351.80" width="3.22" height="13.30" fill="#901c1c"/>
<rect x="302.57" y="593.60" width="3.22" height="14.40" fill="#20f020"/>
<rect x="302.57" y="459.40" width="3.22" height="134.20" fill="#20f6f6"/>
<rect x="302.57" y="353.00" width="3.22" height="106.40" fill="#f8d818"/>
<rect x="302.57" y="351.80" width="3.22" height="1.20" fill="#901c1c"/>
<rect x="305.79" y="593.00" width="3.22" height="15.00" fill="#20f020"/>
<rect x="305.79" y="466.40" width="3.22" height="126.60" fill="#20f6f6"/>
<rect x="305.79" y="359.90" width="3.22" height="106.50" fill="#f8d818"/>
<rect x="305.79" y="351.80" width="3.22" height="8.10" fill="#901c1c"/>
<rect x="309.01" y="592.30" width="3.22" height="15.70" fill="#20f020"/>
<rect x="309.01" y="458.20" width="3.22" height="134.10" fill="#20f6f6"/>
<rect x="309.01" y="353.50" width="3.22" height="104.70" fill="#f8d818"/>
<rect x="309.01" y="351.80" width="3.22" height="1.70" fill="#901c1c"/>
<rect x="312.24" y="599.50" width="3.22" height="8.50" fill="#20f020"/>
<rect x="312.24" y="455.60" width="3.22" height="143.90" fill="#20f6f6"/>
<rect x="312.24" y="353.00" width="3.22" height="102.60" fill="#f8d818"/>
<rect x="312.24" y="351.80" width="3.22" height="1.20" fill="#901c1c"/>
<rect x="315.46" y="589.70" width="3.22" height="18.30" fill="#20f020"/>
<rect x="315.46" y="460.70" width="3.22" height="129.00" fill="#20f6f6"/>
<rect x="315.46" y="358.10" width="3.22" height="102.60" fill="#f8d818"/>
<rect x="315.46" y="351.80" width="3.22" height="6.30" fill="#901c1c"/>
<rect x="318.68" y="580.00" width="3.22" height="28.00" fill="#20f020"/>
<rect x="318.68" y="456.90" width="3.22" height="123.10" fill="#20f6f6"/>
<rect x="318.68" y="354.70" width="3.22" height="102.20" fill="#f8d818"/>
<rect x="318.68" y="351.80" width="3.22" height="2.90" fill="#901c1c"/>
<rect x="321.91" y="592.30" width="3.22" height="15.70" fill="#20f020"/>
<rect x="321.91" y="458.80" width="3.22" height="133.50" fill="#20f6f6"/>
<rect x="321.91" y="358.10" width="3.22" height="100.70" fill="#f8d818"/>
<rect x="321.91" y="351.80" width="3.22" height="6.30" fill="#901c1c"/>
<rect x="325.13" y="593.00" width="3.22" height="15.00" fill="#20f020"/>
<rect x="325.13" y="453.70" width="3.22" height="139.30" fill="#20f6f6"/>
<rect x="325.13" y="352.40" width="3.22" height="101.30" fill="#f8d818"/>
<rect x="325.13" y="351.80" width="3.22" height="0.60" fill="#901c1c"/>
<rect x="328.35" y="592.30" width="3.22" height="15.70" fill="#20f020"/>
<rect x="328.35" y="456.30" width="3.22" height="136.00" fill="#20f6f6"/>
<rect x="328.35" y="355.30" width="3.22" height="101.00" fill="#f8d818"/>
<rect x="328.35" y="351.80" width="3.22" height="3.50" fill="#901c1c"/>
<rect x="331.57" y="592.30" width="3.22" height="15.70" fill="#20f020"/>
<rect x="331.57" y="456.90" width="3.22" height="135.40" fill="#20f6f6"/>
<rect x="331.57" y="356.40" width="3.22" height="100.50" fill="#f8d818"/>
<rect x="331.57" y="351.80" width="3.22" height="4.60" fill="#901c1c"/>
<rect x="334.80" y="593.00" width="3.22" height="15.00" fill="#20f020"/>
<rect x="334.80" y="451.80" width="3.22" height="141.20" fill="#20f6f6"/>
<rect x="334.80" y="353.00" width="3.22" height="98.80" fill="#f8d818"/>
<rect x="334.80" y="351.80" width="3.22" height="1.20" fill="#901c1c"/>
<rect x="338.02" y="586.50" width="3.22" height="21.50" fill="#20f020"/>
<rect x="338.02" y="449.30" width="3.22" height="137.20" fill="#20f6f6"/>
<rect x="338.02" y="352.40" width="3.22" height="96.90" fill="#f8d818"/>
<rect x="338.02" y="351.80" width="3.22" height="0.60" fill="#901c1c"/>
<rect x="341.24" y="551.40" width="3.22" height="56.60" fill="#20f020"/>
<rect x="341.24" y="449.30" width="3.22" height="102.10" fill="#20f6f6"/>
<rect x="341.24" y="352.40" width="3.22" height="96.90" fill="#f8d818"/>
<rect x="341.24" y="351.80" width="3.22" height="0.60" fill="#901c1c"/>
<rect x="344.47" y="590.40" width="3.22" height="17.60" fill="#20f020"/>
<rect x="344.47" y="460.10" width="3.22" height="130.30" fill="#20f6f6"/>
<rect x="344.47" y="365.10" width="3.22" height="95.00" fill="#f8d818"/>
<rect x="344.47" y="351.80" width="3.22" height="13.30" fill="#901c1c"/>
<rect x="347.69" y="591.70" width="3.22" height="16.30" fill="#20f020"/>
<rect x="347.69" y="454.40" width="3.22" height="137.30" fill="#20f6f6"/>
<rect x="347.69" y="359.90" width="3.22" height="94.50" fill="#f8d818"/>
<rect x="347.69" y="351.80" width="3.22" height="8.10" fill="#901c1c"/>
<rect x="350.91" y="590.40" width="3.22" height="17.60" fill="#20f020"/>
<rect x="350.91" y="453.70" width="3.22" height="136.70" fill="#20f6f6"/>
<rect x="350.91" y="358.70" width="3.22" height="95.00" fill="#f8d818"/>
<rect x="350.91" y="351.80" width="3.22" height="6.90" fill="#901c1c"/>
<rect x="354.13" y="595.60" width="3.22" height="12.40" fill="#20f020"/>
<rect x="354.13" y="453.70" width="3.22" height="141.90" fill="#20f6f6"/>
<rect x="354.13" y="359.90" width="3.22" height="93.80" fill="#f8d818"/>
<rect x="354.13" y="351.80" width="3.22" height="8.10" fill="#901c1c"/>
<rect x="357.36" y="602.70" width="3.22" height="5.30" fill="#20f020"/>
<rect x="357.36" y="445.60" width="3.22" height="157.10" fill="#20f6f6"/>
<rect x="357.36" y="353.00" width="3.22" height="92.60" fill="#f8d818"/>
<rect x="357.36" y="351.80" width="3.22" height="1.20" fill="#901c1c"/>
<rect x="360.58" y="583.60" width="3.22" height="24.40" fill="#20f020"/>
<rect x="360.58" y="445.00" width="3.22" height="138.60" fill="#20f6f6"/>
<rect x="360.58" y="353.00" width="3.22" height="92.00" fill="#f8d818"/>
<rect x="360.58" y="351.80" width="3.22" height="1.20" fill="#901c1c"/>
<rect x="363.80" y="594.60" width="3.22" height="13.40" fill="#20f020"/>
<rect x="363.80" y="452.00" width="3.22" height="142.60" fill="#20f6f6"/>
<rect x="363.80" y="359.90" width="3.22" height="92.10" fill="#f8d818"/>
<rect x="363.80" y="351.80" width="3.22" height="8.10" fill="#901c1c"/>
<rect x="367.03" y="594.60" width="3.22" height="13.40" fill="#20f020"/>
<rect x="367.03" y="443.10" width="3.22" height="151.50" fill="#20f6f6"/>
<rect x="367.03" y="352.40" width="3.22" height="90.70" fill="#f8d818"/>
<rect x="367.03" y="351.80" width="3.22" height="0.60" fill="#901c1c"/>
<rect x="370.25" y="594.60" width="3.22" height="13.40" fill="#20f020"/>
<rect x="370.25" y="441.80" width="3.22" height="152.80" fill="#20f6f6"/>
<rect x="370.25" y="353.00" width="3.22" height="88.80" fill="#f8d818"/>
<rect x="370.25" y="351.80" width="3.22" height="1.20" fill="#901c1c"/>
<rect x="373.47" y="596.90" width="3.22" height="11.10" fill="#20f020"/>
<rect x="373.47" y="449.40" width="3.22" height="147.50" fill="#20f6f6"/>
<rect x="373.47" y="359.90" width="3.22" height="89.50" fill="#f8d818"/>
<rect x="373.47" y="351.80" width="3.22" height="8.10" fill="#901c1c"/>
<rect x="376.69" y="587.70" width="3.22" height="20.30" fill="#20f020"/>
<rect x="376.69" y="443.70" width="3.22" height="144.00" fill="#20f6f6"/>
<rect x="376.69" y="354.10" width="3.22" height="89.60" fill="#f8d818"/>
<rect x="376.69" y="351.80" width="3.22" height="2.30" fill="#901c1c"/>
<rect x="379.92" y="585.40" width="3.22" height="22.60" fill="#20f020"/>
<rect x="379.92" y="450.10" width="3.22" height="135.30" fill="#20f6f6"/>
<rect x="379.92" y="361.00" width="3.22" height="89.10" fill="#f8d818"/>
<rect x="379.92" y="351.80" width="3.22" height="9.20" fill="#901c1c"/>
<rect x="383.14" y="596.90" width="3.22" height="11.10" fill="#20f020"/>
<rect x="383.14" y="504.00" width="3.22" height="92.90" fill="#20f6f6"/>
<rect x="383.14" y="413.80" width="3.22" height="90.20" fill="#f8d818"/>
<rect x="383.14" y="351.80" width="3.22" height="62.00" fill="#901c1c"/>
<rect x="386.36" y="590.60" width="3.22" height="17.40" fill="#20f020"/>
<rect x="386.36" y="446.90" width="3.22" height="143.70" fill="#20f6f6"/>
<rect x="386.36" y="358.70" width="3.22" height="88.20" fill="#f8d818"/>
<rect x="386.36" y="351.80" width="3.22" height="6.90" fill="#901c1c"/>
<rect x="389.59" y="591.70" width="3.22" height="16.30" fill="#20f020"/>
<rect x="389.59" y="441.20" width="3.22" height="150.50" fill="#20f6f6"/>
<rect x="389.59" y="357.00" width="3.22" height="84.20" fill="#f8d818"/>
<rect x="389.59" y="351.80" width="3.22" height="5.20" fill="#901c1c"/>
<rect x="392.81" y="587.70" width="3.22" height="20.30" fill="#20f020"/>
<rect x="392.81" y="436.10" width="3.22" height="151.60" fill="#20f6f6"/>
<rect x="392.81" y="353.50" width="3.22" height="82.60" fill="#f8d818"/>
<rect x="392.81" y="351.80" width="3.22" height="1.70" fill="#901c1c"/>
<rect x="396.03" y="594.60" width="3.22" height="13.40" fill="#20f020"/>
<rect x="396.03" y="441.20" width="3.22" height="153.40" fill="#20f6f6"/>
<rect x="396.03" y="359.90" width="3.22" height="81.30" fill="#f8d818"/>
<rect x="396.03" y="351.80" width="3.22" height="8.10" fill="#901c1c"/>
<rect x="399.25" y="591.10" width="3.22" height="16.90" fill="#20f020"/>
<rect x="399.25" y="448.20" width="3.22" height="142.90" fill="#20f6f6"/>
<rect x="399.25" y="366.80" width="3.22" height="81.40" fill="#f8d818"/>
<rect x="399.25" y="351.80" width="3.22" height="15.00" fill="#901c1c"/>
<rect x="402.48" y="601.00" width="3.22" height="7.00" fill="#20f020"/>
<rect x="402.48" y="441.80" width="3.22" height="159.20" fill="#20f6f6"/>
<rect x="402.48" y="361.00" width="3.22" height="80.80" fill="#f8d818"/>
<rect x="402.48" y="351.80" width="3.22" height="9.20" fill="#901c1c"/>
<rect x="405.70" y="602.70" width="3.22" height="5.30" fill="#20f020"/>
<rect x="405.70" y="433.60" width="3.22" height="169.10" fill="#20f6f6"/>
<rect x="405.70" y="352.40" width="3.22" height="81.20" fill="#f8d818"/>
<rect x="405.70" y="351.80" width="3.22" height="0.60" fill="#901c1c"/>
<rect x="408.92" y="596.90" width="3.22" height="11.10" fill="#20f020"/>
<rect x="408.92" y="431.10" width="3.22" height="165.80" fill="#20f6f6"/>
<rect x="408.92" y="357.60" width="3.22" height="73.50" fill="#f8d818"/>
<rect x="408.92" y="351.80" width="3.22" height="5.80" fill="#901c1c"/>
<rect x="412.15" y="586.50" width="3.22" height="21.50" fill="#20f020"/>
<rect x="412.15" y="429.80" width="3.22" height="156.70" fill="#20f6f6"/>
<rect x="412.15" y="358.70" width="3.22" height="71.10" fill="#f8d818"/>
<rect x="412.15" y="351.80" width="3.22" height="6.90" fill="#901c1c"/>
<rect x="415.37" y="593.40" width="3.22" height="14.60" fill="#20f020"/>
<rect x="415.37" y="428.20" width="3.22" height="165.20" fill="#20f6f6"/>
<rect x="415.37" y="357.10" width="3.22" height="71.10" fill="#f8d818"/>
<rect x="415.37" y="351.80" width="3.22" height="5.30" fill="#901c1c"/>
<rect x="418.59" y="603.30" width="3.22" height="4.70" fill="#20f020"/>
<rect x="418.59" y="430.10" width="3.22" height="173.20" fill="#20f6f6"/>
<rect x="418.59" y="361.60" width="3.22" height="68.50" fill="#f8d818"/>
<rect x="418.59" y="351.80" width="3.22" height="9.80" fill="#901c1c"/>
<rect x="421.81" y="593.40" width="3.22" height="14.60" fill="#20f020"/>
<rect x="421.81" y="427.50" width="3.22" height="165.90" fill="#20f6f6"/>
<rect x="421.81" y="360.30" width="3.22" height="67.20" fill="#f8d818"/>
<rect x="421.81" y="351.80" width="3.22" height="8.50" fill="#901c1c"/>
<rect x="425.04" y="596.30" width="3.22" height="11.70" fill="#20f020"/>
<rect x="425.04" y="429.40" width="3.22" height="166.90" fill="#20f6f6"/>
<rect x="425.04" y="362.20" width="3.22" height="67.20" fill="#f8d818"/>
<rect x="425.04" y="351.80" width="3.22" height="10.40" fill="#901c1c"/>
<rect x="428.26" y="600.40" width="3.22" height="7.60" fill="#20f020"/>
<rect x="428.26" y="503.50" width="3.22" height="96.90" fill="#20f6f6"/>
<rect x="428.26" y="437.60" width="3.22" height="65.90" fill="#f8d818"/>
<rect x="428.26" y="351.80" width="3.22" height="85.80" fill="#901c1c"/>
<rect x="431.48" y="593.40" width="3.22" height="14.60" fill="#20f020"/>
<rect x="431.48" y="418.70" width="3.22" height="174.70" fill="#20f6f6"/>
<rect x="431.48" y="354.00" width="3.22" height="64.70" fill="#f8d818"/>
<rect x="431.48" y="351.80" width="3.22" height="2.20" fill="#901c1c"/>
<rect x="434.71" y="601.50" width="3.22" height="6.50" fill="#20f020"/>
<rect x="434.71" y="486.00" width="3.22" height="115.50" fill="#20f6f6"/>
<rect x="434.71" y="417.00" width="3.22" height="69.00" fill="#f8d818"/>
<rect x="434.71" y="351.80" width="3.22" height="65.20" fill="#901c1c"/>
<rect x="437.93" y="599.80" width="3.22" height="8.20" fill="#20f020"/>
<rect x="437.93" y="423.10" width="3.22" height="176.70" fill="#20f6f6"/>
<rect x="437.93" y="359.70" width="3.22" height="63.40" fill="#f8d818"/>
<rect x="437.93" y="351.80" width="3.22" height="7.90" fill="#901c1c"/>
<rect x="441.15" y="589.40" width="3.22" height="18.60" fill="#20f020"/>
<rect x="441.15" y="433.20" width="3.22" height="156.20" fill="#20f6f6"/>
<rect x="441.15" y="374.20" width="3.22" height="59.00" fill="#f8d818"/>
<rect x="441.15" y="351.80" width="3.22" height="22.40" fill="#901c1c"/>
<rect x="444.37" y="601.50" width="3.22" height="6.50" fill="#20f020"/>
<rect x="444.37" y="421.20" width="3.22" height="180.30" fill="#20f6f6"/>
<rect x="444.37" y="361.60" width="3.22" height="59.60" fill="#f8d818"/>
<rect x="444.37" y="351.80" width="3.22" height="9.80" fill="#901c1c"/>
<rect x="447.60" y="603.30" width="3.22" height="4.70" fill="#20f020"/>
<rect x="447.60" y="416.10" width="3.22" height="187.20" fill="#20f6f6"/>
<rect x="447.60" y="357.10" width="3.22" height="59.00" fill="#f8d818"/>
<rect x="447.60" y="351.80" width="3.22" height="5.30" fill="#901c1c"/>
<rect x="450.82" y="585.40" width="3.22" height="22.60" fill="#20f020"/>
<rect x="450.82" y="411.70" width="3.22" height="173.70" fill="#20f6f6"/>
<rect x="450.82" y="354.00" width="3.22" height="57.70" fill="#f8d818"/>
<rect x="450.82" y="351.80" width="3.22" height="2.20" fill="#901c1c"/>
<rect x="454.04" y="601.50" width="3.22" height="6.50" fill="#20f020"/>
<rect x="454.04" y="419.30" width="3.22" height="182.20" fill="#20f6f6"/>
<rect x="454.04" y="360.90" width="3.22" height="58.40" fill="#f8d818"/>
<rect x="454.04" y="351.80" width="3.22" height="9.10" fill="#901c1c"/>
<rect x="457.27" y="596.30" width="3.22" height="11.70" fill="#20f020"/>
<rect x="457.27" y="413.00" width="3.22" height="183.30" fill="#20f6f6"/>
<rect x="457.27" y="357.10" width="3.22" height="55.90" fill="#f8d818"/>
<rect x="457.27" y="351.80" width="3.22" height="5.30" fill="#901c1c"/>
<rect x="460.49" y="596.30" width="3.22" height="11.70" fill="#20f020"/>
<rect x="460.49" y="411.10" width="3.22" height="185.20" fill="#20f6f6"/>
<rect x="460.49" y="356.50" width="3.22" height="54.60" fill="#f8d818"/>
<rect x="460.49" y="351.80" width="3.22" height="4.70" fill="#901c1c"/>
<rect x="463.71" y="605.60" width="3.22" height="2.40" fill="#20f020"/>
<rect x="463.71" y="409.80" width="3.22" height="195.80" fill="#20f6f6"/>
<rect x="463.71" y="356.50" width="3.22" height="53.30" fill="#f8d818"/>
<rect x="463.71" y="351.80" width="3.22" height="4.70" fill="#901c1c"/>
<rect x="466.93" y="592.30" width="3.22" height="15.70" fill="#20f020"/>
<rect x="466.93" y="414.90" width="3.22" height="177.40" fill="#20f6f6"/>
<rect x="466.93" y="362.80" width="3.22" height="52.10" fill="#f8d818"/>
<rect x="466.93" y="351.80" width="3.22" height="11.00" fill="#901c1c"/>
<rect x="470.16" y="599.80" width="3.22" height="8.20" fill="#20f020"/>
<rect x="470.16" y="401.50" width="3.22" height="198.30" fill="#20f6f6"/>
<rect x="470.16" y="352.70" width="3.22" height="48.80" fill="#f8d818"/>
<rect x="470.16" y="351.80" width="3.22" height="0.90" fill="#901c1c"/>
<rect x="473.38" y="523.60" width="3.22" height="84.40" fill="#20f020"/>
<rect x="473.38" y="404.70" width="3.22" height="118.90" fill="#20f6f6"/>
<rect x="473.38" y="362.40" width="3.22" height="42.30" fill="#f8d818"/>
<rect x="473.38" y="351.80" width="3.22" height="10.60" fill="#901c1c"/>
<rect x="476.60" y="514.10" width="3.22" height="93.90" fill="#20f020"/>
<rect x="476.60" y="391.20" width="3.22" height="122.90" fill="#20f6f6"/>
<rect x="476.60" y="354.20" width="3.22" height="37.00" fill="#f8d818"/>
<rect x="476.60" y="351.80" width="3.22" height="2.40" fill="#901c1c"/>
<rect x="479.83" y="604.70" width="3.22" height="3.30" fill="#20f020"/>
<rect x="479.83" y="392.90" width="3.22" height="211.80" fill="#20f6f6"/>
<rect x="479.83" y="360.40" width="3.22" height="32.50" fill="#f8d818"/>
<rect x="479.83" y="351.80" width="3.22" height="8.60" fill="#901c1c"/>
<rect x="483.05" y="378.40" width="3.22" height="229.60" fill="#20f6f6"/>
<rect x="483.05" y="356.60" width="3.22" height="21.80" fill="#f8d818"/>
<rect x="483.05" y="351.80" width="3.22" height="4.80" fill="#901c1c"/>
<rect x="486.27" y="602.30" width="3.22" height="5.70" fill="#20f020"/>
<rect x="486.27" y="368.30" width="3.22" height="234.00" fill="#20f6f6"/>
<rect x="486.27" y="353.20" width="3.22" height="15.10" fill="#f8d818"/>
<rect x="486.27" y="351.80" width="3.22" height="1.40" fill="#901c1c"/>
<rect x="489.49" y="593.20" width="3.22" height="14.80" fill="#20f020"/>
<rect x="489.49" y="367.30" width="3.22" height="225.90" fill="#20f6f6"/>
<rect x="489.49" y="352.80" width="3.22" height="14.50" fill="#f8d818"/>
<rect x="489.49" y="351.80" width="3.22" height="1.00" fill="#901c1c"/>
<rect x="492.72" y="605.20" width="3.22" height="2.80" fill="#20f020"/>
<rect x="492.72" y="365.70" width="3.22" height="239.50" fill="#20f6f6"/>
<rect x="492.72" y="353.20" width="3.22" height="12.50" fill="#f8d818"/>
<rect x="492.72" y="351.80" width="3.22" height="1.40" fill="#901c1c"/>
<rect x="495.94" y="570.30" width="3.22" height="37.70" fill="#20f020"/>
<rect x="495.94" y="363.50" width="3.22" height="206.80" fill="#20f6f6"/>
<rect x="495.94" y="353.20" width="3.22" height="10.30" fill="#f8d818"/>
<rect x="495.94" y="351.80" width="3.22" height="1.40" fill="#901c1c"/>
<rect x="499.16" y="548.90" width="3.22" height="59.10" fill="#20f020"/>
<rect x="499.16" y="377.60" width="3.22" height="171.30" fill="#20f6f6"/>
<rect x="499.16" y="370.80" width="3.22" height="6.80" fill="#f8d818"/>
<rect x="499.16" y="351.80" width="3.22" height="19.00" fill="#901c1c"/>
<rect x="502.39" y="601.80" width="3.22" height="6.20" fill="#20f020"/>
<rect x="502.39" y="372.30" width="3.22" height="229.50" fill="#20f6f6"/>
<rect x="502.39" y="365.60" width="3.22" height="6.70" fill="#f8d818"/>
<rect x="502.39" y="351.80" width="3.22" height="13.80" fill="#901c1c"/>
<rect x="505.61" y="357.60" width="3.22" height="250.40" fill="#20f6f6"/>
<rect x="505.61" y="352.80" width="3.22" height="4.80" fill="#f8d818"/>
<rect x="505.61" y="351.80" width="3.22" height="1.00" fill="#901c1c"/>
<rect x="508.83" y="606.60" width="3.22" height="1.40" fill="#20f020"/>
<rect x="508.83" y="357.60" width="3.22" height="249.00" fill="#20f6f6"/>
<rect x="508.83" y="356.60" width="3.22" height="1.00" fill="#f8d818"/>
<rect x="508.83" y="351.80" width="3.22" height="4.80" fill="#901c1c"/>
<rect x="512.05" y="604.20" width="3.22" height="3.80" fill="#20f020"/>
<rect x="512.05" y="364.70" width="3.22" height="239.50" fill="#20f6f6"/>
<rect x="512.05" y="351.80" width="3.22" height="12.90" fill="#901c1c"/>
<rect x="515.28" y="592.20" width="3.22" height="15.80" fill="#20f020"/>
<rect x="515.28" y="352.40" width="3.22" height="239.80" fill="#20f6f6"/>
<rect x="515.28" y="351.80" width="3.22" height="0.60" fill="#f8d818"/>
</g>
<rect x="206.5" y="620.4" width="4.4" height="4.4" fill="#20f020"/>
<text x="218.3" y="628.9" font-size="12.4" fill="#1a1a1a">AFR</text>
<rect x="252.4" y="620.4" width="4.4" height="4.4" fill="#20f6f6"/>
<text x="264.2" y="628.9" font-size="12.4" fill="#1a1a1a">EUR</text>
<rect x="298.6" y="620.4" width="4.4" height="4.4" fill="#f8d818"/>
<text x="310.4" y="628.9" font-size="12.4" fill="#1a1a1a">IA</text>
<rect x="344.1" y="620.4" width="4.4" height="4.4" fill="#901c1c"/>
<text x="355.9" y="628.9" font-size="12.4" fill="#1a1a1a">EAS</text>
</svg></body></html>
